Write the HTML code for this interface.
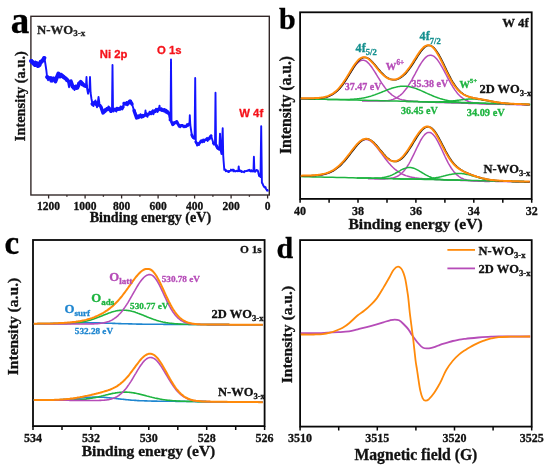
<!DOCTYPE html>
<html><head><meta charset="utf-8"><style>
html,body{margin:0;padding:0;background:#fff;width:550px;height:470px;overflow:hidden}
svg{display:block}

</style></head><body>
<svg width="550" height="470" viewBox="0 0 550 470" font-family="Liberation Serif" font-weight="bold" style="will-change:transform">
<rect width="550" height="470" fill="#fff"/>
<rect x="30.9" y="16.3" width="238.4" height="178.7" fill="none" stroke="#332828" stroke-width="1.4"/>
<path d="M267.6,195 v3.6 M249.4,195 v1.8 M231.1,195 v3.6 M212.9,195 v1.8 M194.6,195 v3.6 M176.4,195 v1.8 M158.1,195 v3.6 M139.9,195 v1.8 M121.6,195 v3.6 M103.4,195 v1.8 M85.1,195 v3.6 M66.9,195 v1.8 M48.6,195 v3.6" stroke="#332828" stroke-width="1.3" fill="none"/>
<text x="267.6" y="210" font-size="11.5" text-anchor="middle" fill="#111" stroke="#111" stroke-width="0.3">0</text>
<text x="231.1" y="210" font-size="11.5" text-anchor="middle" fill="#111" stroke="#111" stroke-width="0.3">200</text>
<text x="194.6" y="210" font-size="11.5" text-anchor="middle" fill="#111" stroke="#111" stroke-width="0.3">400</text>
<text x="158.1" y="210" font-size="11.5" text-anchor="middle" fill="#111" stroke="#111" stroke-width="0.3">600</text>
<text x="121.6" y="210" font-size="11.5" text-anchor="middle" fill="#111" stroke="#111" stroke-width="0.3">800</text>
<text x="85.1" y="210" font-size="11.5" text-anchor="middle" fill="#111" stroke="#111" stroke-width="0.3">1000</text>
<text x="48.6" y="210" font-size="11.5" text-anchor="middle" fill="#111" stroke="#111" stroke-width="0.3">1200</text>
<text x="150.4" y="222.2" font-size="14.1" text-anchor="middle" fill="#111" stroke="#111" stroke-width="0.3">Binding energy (eV)</text>
<text transform="translate(24.5,96.2) rotate(-90)" font-size="14.4" text-anchor="middle" fill="#111" stroke="#111" stroke-width="0.3">Intensity (a.u.)</text>
<text x="10.8" y="33" font-size="37" fill="#000" stroke="#000" stroke-width="0.3">a</text>
<text x="37" y="33.5" font-size="12.8" fill="#222" stroke="#222" stroke-width="0.3">N-WO<tspan font-size="9" dy="2.5">3-x</tspan></text>
<text x="99.8" y="57.8" font-family="Liberation Sans" font-size="11.3" fill="#f5121a" stroke="#f5121a" stroke-width="0.3">Ni 2p</text>
<text x="157" y="53.9" font-family="Liberation Sans" font-size="11.3" fill="#f5121a" stroke="#f5121a" stroke-width="0.3">O 1s</text>
<text x="239.3" y="116.5" font-family="Liberation Sans" font-size="11.3" fill="#f5121a" stroke="#f5121a" stroke-width="0.3">W 4f</text>
<path d="M31,61 L33,63 L35,65 L36,63 L37,64 L38,66 L39.5,65 L40.5,62 L41.8,61.2 L43,60 L44.4,58 M47.1,77 L48.5,78 L50.1,78.4 L51.5,80 L53.6,79 L55.4,81.3 L57,77 L58.4,73.6 L60,76.5 L61.9,75.4 L63.5,77 L65.5,78.4 L67.8,80.7 M70.8,81.3 L72.6,86.6 L75,87.5 L77.3,87.8 L79,84 L80.8,81.9 L82.5,84 L84.4,85.5 L86,86 M92.5,104 L95,102.5 L97.5,105" stroke="#1414ff" stroke-width="4" fill="none" stroke-linejoin="round" stroke-linecap="round"/>
<path d="M101,107 L103,113 L106,110 L109,108 L111,111 L112,110 M113,110 L115,109.5 L120,109 L123,107 M124,103.5 L127,104 L130,101 L132,104 M134,110.5 L136.6,118 L138.6,117.3 L141,116 L143,116.5 L145,115 M146,115 L149,114 L152.3,112.5 L155,111.5 L157,110 L159,109 M160,109.5 L163,110 L165.9,110.5 L168.7,113.2" stroke="#1414ff" stroke-width="3.4" fill="none" stroke-linejoin="round" stroke-linecap="round"/>
<path d="M170,120 L170.6,120 M171.5,122 L172.7,124.8 L175,123 L176.8,121.4 L178,124 L179.6,125.7 L183,126 L186.4,126.2 L188.4,124.1 L189.5,124 M191.8,135 L193.2,137.7 L194.6,138 M195.8,142 L197.7,144.6 L200,142.5 L201.8,141.1 L205,140 L208.6,139.1 L211.1,135.7 M213.4,143.2 L215,144 M216,145 L217.5,148 L219.3,149.3" stroke="#1414ff" stroke-width="2.8" fill="none" stroke-linejoin="round" stroke-linecap="round"/>
<path d="M31,61 L31.5,60.5 L32,60 L32.5,63.3 L33,63 L33.5,61.1 L34,64.2 L34.5,63.7 L35,65 L35.5,61.5 L36,63 L36.5,63.5 L37,64 L37.5,62.4 L38,66 L38.5,65.3 L39,62.9 L39.5,65 L40,61.2 L40.5,62 L41.1,61.2 L41.8,61.2 L42.4,62.4 L43,60 L43.5,57.2 L43.9,57.1 L44.4,58 L45.4,64 L46.3,70 L47.1,77 L47.6,78 L48,80.2 L48.5,78 L49,78.6 L49.6,77.7 L50.1,78.4 L50.6,81.6 L51,76.9 L51.5,80 L52,81.8 L52.5,78.3 L53.1,77.3 L53.6,79 L54.2,77.6 L54.8,79.5 L55.4,81.3 L55.9,81.6 L56.5,76.6 L57,77 L57.5,76.3 L57.9,75.5 L58.4,73.6 L58.9,73.9 L59.5,75.8 L60,76.5 L60.5,73.8 L61,73.5 L61.4,74 L61.9,75.4 L62.4,76.9 L63,76.1 L63.5,77 L64,76.3 L64.5,78.2 L65,77.8 L65.5,78.4 L66,77.7 L66.4,81 L66.9,80.9 L67.3,78.8 L67.8,80.7 L69,87.2 L70.8,81.3 L71.4,83.5 L72,85 L72.6,86.6 L73.1,88.9 L73.6,88.2 L74,86 L74.5,90 L75,87.5 L75.5,85.4 L75.9,87.2 L76.4,89.1 L76.8,85.8 L77.3,87.8 L77.9,86.5 L78.4,82.7 L79,84 L79.6,84.2 L80.2,84.1 L80.8,81.9 L81.4,83 L81.9,85.4 L82.5,84 L83,83.3 L83.5,85.8 L83.9,85.7 L84.4,85.5 L84.9,86.1 L85.5,85.6 L86,86 L86.5,77 L87,88 L88,93.7 L89.5,88 L90,77 L90.6,93 L91.5,99 L92.5,104 L93,105.6 L93.5,105.9 L94,103 L94.5,103.7 L95,102.5 L95.5,100.5 L96,104.6 L96.5,104.8 L97,107.3 L97.5,105 L98.5,97 L99.5,104 L100,106.5 L100.5,105 L101,107 L101.5,108 L102,110.8 L102.5,109.3 L103,113 L103.5,112.3 L104,110.5 L104.5,109.7 L105,109 L105.5,111.7 L106,110 L106.5,108 L107,108.2 L107.5,108.5 L108,110.4 L108.5,106.4 L109,108 L109.5,108.5 L110,109.7 L110.5,112 L111,111 L111.5,112 L112,110 L112.5,65 L113,110 L113.5,111.5 L114,108.7 L114.5,109.2 L115,109.5 L115.5,108.8 L115.9,111.2 L116.4,111.5 L116.8,107.7 L117.3,107.8 L117.7,108 L118.2,108 L118.6,109.1 L119.1,109.5 L119.5,108 L120,109 L120.5,106.4 L121,108 L121.5,107.4 L122,108 L122.5,109.4 L123,107 L124,103.5 L124.5,104.5 L125,103.7 L125.5,104.3 L126,104.6 L126.5,101.9 L127,104 L127.5,105.3 L128,104.3 L128.5,104.2 L129,103.4 L129.5,101 L130,101 L130.5,101.3 L131,100.7 L131.5,103.9 L132,104 L134,110.5 L134.5,110 L135,111.5 L135.6,113.7 L136.1,114.9 L136.6,118 L137.1,117.1 L137.6,115.6 L138.1,115.2 L138.6,117.3 L139.1,115.4 L139.6,114.9 L140,115.9 L140.5,114.1 L141,116 L141.5,117.8 L142,116.8 L142.5,114.8 L143,116.5 L143.5,115 L144,115 L144.5,114.8 L145,115 L145.5,110.5 L146,115 L146.5,113.1 L147,116.3 L147.5,116.8 L148,114.2 L148.5,114.1 L149,114 L149.5,111.9 L149.9,111.7 L150.4,112.6 L150.9,112.1 L151.4,114.4 L151.8,111.2 L152.3,112.5 L152.8,110.1 L153.4,114.2 L153.9,112 L154.5,110.1 L155,111.5 L155.5,111.3 L156,108.6 L156.5,110.5 L157,110 L157.5,112 L158,111.2 L158.5,110.2 L159,109 L159.5,105.7 L160,109.5 L160.5,108.5 L161,109.1 L161.5,108.2 L162,111.1 L162.5,110.1 L163,110 L163.5,111.4 L164,109.4 L164.4,109 L164.9,111.8 L165.4,112.6 L165.9,110.5 L166.4,112.6 L166.8,112.8 L167.3,113.3 L167.8,113.4 L168.2,111.5 L168.7,113.2 L170,120 L170.6,120 L171,59.5 L171.5,122 L172.1,123.5 L172.7,124.8 L173.2,123.9 L173.6,122.5 L174.1,122.1 L174.5,122.6 L175,123 L175.4,121.8 L175.9,122.9 L176.4,123.4 L176.8,121.4 L177.4,122.5 L178,124 L178.5,126.1 L179.1,126.8 L179.6,125.7 L180.1,127.3 L180.6,125.3 L181.1,124.9 L181.5,124.9 L182,124.9 L182.5,125 L183,126 L183.5,126.5 L184,127.4 L184.5,127.2 L184.9,126 L185.4,126.7 L185.9,127.2 L186.4,126.2 L186.9,124.3 L187.4,125.7 L187.9,126 L188.4,124.1 L188.9,125 L189.5,124 L189.8,115.2 L190.3,125 L191.8,135 L192.3,136.8 L192.7,136.7 L193.2,137.7 L193.7,136.7 L194.1,138.9 L194.6,138 L195.2,78 L195.8,142 L196.3,142.1 L196.8,144.3 L197.2,145.6 L197.7,144.6 L198.2,143.8 L198.6,143.4 L199.1,144.9 L199.5,143.7 L200,142.5 L200.4,141 L200.9,140.5 L201.4,140.3 L201.8,141.1 L202.3,142.3 L202.7,141.8 L203.2,139.4 L203.6,141.6 L204.1,141.9 L204.5,140.7 L205,140 L205.5,139.4 L206,139.9 L206.5,138.4 L207.1,137.8 L207.6,141 L208.1,139.7 L208.6,139.1 L209.1,138.5 L209.6,139.2 L210.1,136.8 L210.6,137.6 L211.1,135.7 L213.4,143.2 L213.9,144.6 L214.5,142.8 L215,144 L215.5,92.7 L216,145 L216.5,145.2 L217,146.3 L217.5,148 L217.9,147.4 L218.4,148.9 L218.9,148.2 L219.3,149.3 L220,133.6 L220.6,150 L221.5,154 L222.7,128.2 L223.2,155 L223.6,161 L224.3,169.8 L224.8,169.7 L225.3,169.4 L225.8,171.3 L226.2,170.3 L226.7,170.7 L227.2,171.2 L227.7,171.2 L228.2,172 L228.7,170.9 L229.1,171.9 L229.6,170.9 L230.1,170.9 L230.6,170.8 L231,169.6 L231.5,170.4 L232,170.5 L232.5,169.9 L233,169.6 L233.5,171.4 L234,170.1 L234.5,170.9 L235,171.5 L235.5,171.2 L236,171.2 L236.5,170.7 L236.9,171 L237.4,170.9 L237.8,171.3 L238.3,170.5 L238.7,166.4 L239.2,171 L239.7,170.2 L240.2,171.3 L240.7,170.7 L241.2,170.9 L241.7,172 L242.2,171.5 L242.7,171.6 L243.2,171.7 L243.6,172 L244.1,172.3 L244.6,171.1 L245.1,171.4 L245.5,171.1 L246,171 L246.5,170.9 L247,171.1 L247.5,170.4 L248.1,170.4 L248.6,170.1 L249.1,170.9 L249.6,169.8 L250.1,170.5 L250.6,171.1 L251,171.5 L251.5,170.2 L252,171 L252.5,171 L253,171.6 L253.5,170.5 L253.9,156.8 L254.4,171 L255.1,171.8 L255.7,171.2 L256.2,170.2 L256.8,170 L257.3,170.5 L257.8,170.5 L259.1,176 L259.6,175.4 L260,176.1 L260.5,177 L261.2,126.1 L261.9,183 L262.4,183.1 L263,185 L263.5,185.9 L264,186.6 L264.5,187.4 L265,187 L265.5,187.1 L266,189.1 L266.5,189.5 L267,190.5 L267.5,190 L268,191.5" stroke="#1414ff" stroke-width="1.9" fill="none" stroke-linejoin="round"/>
<rect x="300.1" y="12.3" width="231.60000000000002" height="186.6" fill="none" stroke="#080808" stroke-width="1.8"/>
<path d="M531.7,198.9 v3.8 M502.8,198.9 v3.8 M473.8,198.9 v3.8 M444.9,198.9 v3.8 M415.9,198.9 v3.8 M387,198.9 v3.8 M358,198.9 v3.8 M329.1,198.9 v3.8 M300.1,198.9 v3.8" stroke="#080808" stroke-width="1.5" fill="none"/>
<text x="531.7" y="214.6" font-size="12" text-anchor="middle" fill="#111" stroke="#111" stroke-width="0.3">32</text>
<text x="473.8" y="214.6" font-size="12" text-anchor="middle" fill="#111" stroke="#111" stroke-width="0.3">34</text>
<text x="415.9" y="214.6" font-size="12" text-anchor="middle" fill="#111" stroke="#111" stroke-width="0.3">36</text>
<text x="358" y="214.6" font-size="12" text-anchor="middle" fill="#111" stroke="#111" stroke-width="0.3">38</text>
<text x="300.1" y="214.6" font-size="12" text-anchor="middle" fill="#111" stroke="#111" stroke-width="0.3">40</text>
<text x="415.6" y="228.8" font-size="15.6" text-anchor="middle" fill="#111" stroke="#111" stroke-width="0.3">Binding energy (eV)</text>
<text transform="translate(290.8,105) rotate(-90)" font-size="15.7" text-anchor="middle" fill="#111" stroke="#111" stroke-width="0.3">Intensity (a.u.)</text>
<text x="279" y="28.5" font-size="30" fill="#000" stroke="#000" stroke-width="0.3">b</text>
<text x="528.8" y="26.6" font-size="12.8" text-anchor="end" fill="#111" stroke="#111" stroke-width="0.3">W 4f</text>
<path d="M300.8,98.8 L301.8,98.9 L302.8,98.9 L303.8,98.9 L304.8,98.9 L305.8,98.9 L306.8,98.9 L307.8,98.9 L308.8,98.9 L309.8,98.9 L310.8,98.9 L311.8,98.8 L312.8,98.8 L313.8,98.8 L314.8,98.7 L315.8,98.7 L316.8,98.6 L317.8,98.6 L318.8,98.5 L319.8,98.4 L320.8,98.3 L321.8,98.1 L322.8,98 L323.8,97.8 L324.8,97.6 L325.8,97.3 L326.8,97 L327.8,96.7 L328.8,96.3 L329.8,95.9 L330.8,95.4 L331.8,94.8 L332.8,94.2 L333.8,93.6 L334.8,92.8 L335.8,92 L336.8,91.1 L337.8,90.1 L338.8,89.1 L339.8,87.9 L340.8,86.7 L341.8,85.5 L342.8,84.1 L343.8,82.7 L344.8,81.2 L345.8,79.7 L346.8,78.2 L347.8,76.6 L348.8,75 L349.8,73.4 L350.8,71.8 L351.8,70.3 L352.8,68.8 L353.8,67.4 L354.8,66 L355.8,64.7 L356.8,63.6 L357.8,62.6 L358.8,61.8 L359.8,61.1 L360.8,60.6 L361.8,60.3 L362.8,60.2 L363.8,60.3 L364.8,60.6 L365.8,61 L366.8,61.7 L367.8,62.6 L368.8,63.5 L369.8,64.7 L370.8,66 L371.8,67.3 L372.8,68.8 L373.8,70.3 L374.8,71.9 L375.8,73.5 L376.8,75.2 L377.8,76.8 L378.8,78.4 L379.8,80 L380.8,81.6 L381.8,83.2 L382.8,84.6 L383.8,86 L384.8,87.4 L385.8,88.7 L386.8,89.9 L387.8,91 L388.8,92.1 L389.8,93 L390.8,93.9 L391.8,94.8 L392.8,95.5 L393.8,96.2 L394.8,96.8 L395.8,97.4 L396.8,97.9 L397.8,98.3 L398.8,98.7 L399.8,99.1 L400.8,99.4 L401.8,99.7 L402.8,99.9 L403.8,100.1 L404.8,100.3 L405.8,100.5 L406.8,100.7 L407.8,100.8 L408.8,100.9 L409.8,101 L410.8,101.1 L411.8,101.2 L412.8,101.3 L413.8,101.4 L414.8,101.4 L415.8,101.5 L416.8,101.6 L417.8,101.6 L418.8,101.7 L419.8,101.7 L420.8,101.8 L421.8,101.8 L422.8,101.9 L423.8,101.9 L424.8,101.9 L425.8,102 L426.8,102 L427.8,102.1 L428.8,102.1 L429.8,102.1 L430.8,102.2 L431.8,102.2 L432.8,102.3 L433.8,102.3 L434.8,102.3 L435.8,102.4 L436.8,102.4 L437.8,102.4 L438.8,102.5 L439.8,102.5 L440.8,102.5 L441.8,102.6 L442.8,102.6 L443.8,102.6 L444.8,102.7 L445.8,102.7 L446.8,102.7 L447.8,102.7 L448.8,102.8 L449.8,102.8 L450.8,102.8 L451.8,102.9 L452.8,102.9 L453.8,102.9 L454.8,103 L455.8,103 L456.8,103 L457.8,103 L458.8,103.1 L459.8,103.1 L460.8,103.1 L461.8,103.2 L462.8,103.2 L463.8,103.2 L464.8,103.3 L465.8,103.3 L466.8,103.3 L467.8,103.3 L468.8,103.4 L469.8,103.4 L470.8,103.4 L471.8,103.5 L472.8,103.5 L473.8,103.5 L474.8,103.5 L475.8,103.6 L476.8,103.6 L477.8,103.6 L478.8,103.6 L479.8,103.7 L480.8,103.7 L481.8,103.7 L482.8,103.8 L483.8,103.8 L484.8,103.8 L485.8,103.8 L486.8,103.9 L487.8,103.9 L488.8,103.9 L489.8,103.9 L490.8,104 L491.8,104 L492.8,104 L493.8,104.1 L494.8,104.1 L495.8,104.1 L496.8,104.1 L497.8,104.2 L498.8,104.2 L499.8,104.2 L500.8,104.2 L501.8,104.3 L502.8,104.3 L503.8,104.3 L504.8,104.3 L505.8,104.4 L506.8,104.4 L507.8,104.4 L508.8,104.5 L509.8,104.5 L510.8,104.5 L511.8,104.5 L512.8,104.6 L513.8,104.6 L514.8,104.6 L515.8,104.6 L516.8,104.7 L517.8,104.7 L518.8,104.7 L519.8,104.7 L520.8,104.8 L521.8,104.8 L522.8,104.8 L523.8,104.8 L524.8,104.9 L525.8,104.9 L526.8,104.9 L527.8,104.9 L528.8,105 L529.8,105" stroke="#b64cb8" stroke-width="1.5" fill="none"/>
<path d="M362,100.9 L363,100.9 L364,100.9 L365,100.9 L366,101 L367,101 L368,101 L369,101 L370,101 L371,101.1 L372,101.1 L373,101.1 L374,101.1 L375,101.1 L376,101.1 L377,101.1 L378,101.1 L379,101.1 L380,101.1 L381,101.1 L382,101.1 L383,101 L384,101 L385,100.9 L386,100.8 L387,100.7 L388,100.6 L389,100.4 L390,100.2 L391,100 L392,99.7 L393,99.4 L394,99 L395,98.6 L396,98.1 L397,97.5 L398,96.9 L399,96.2 L400,95.5 L401,94.6 L402,93.7 L403,92.7 L404,91.5 L405,90.3 L406,89 L407,87.7 L408,86.2 L409,84.6 L410,83 L411,81.3 L412,79.6 L413,77.7 L414,75.9 L415,74.1 L416,72.2 L417,70.3 L418,68.5 L419,66.7 L420,65 L421,63.4 L422,61.9 L423,60.5 L424,59.2 L425,58.1 L426,57.1 L427,56.3 L428,55.7 L429,55.4 L430,55.2 L431,55.2 L432,55.4 L433,55.8 L434,56.4 L435,57.2 L436,58.2 L437,59.3 L438,60.6 L439,62.1 L440,63.6 L441,65.3 L442,67 L443,68.9 L444,70.7 L445,72.6 L446,74.5 L447,76.4 L448,78.3 L449,80.2 L450,82 L451,83.8 L452,85.4 L453,87.1 L454,88.6 L455,90.1 L456,91.4 L457,92.7 L458,93.9 L459,95 L460,96 L461,96.9 L462,97.7 L463,98.5 L464,99.1 L465,99.7 L466,100.3 L467,100.8 L468,101.2 L469,101.6 L470,101.9 L471,102.2 L472,102.4 L473,102.7 L474,102.9 L475,103 L476,103.2 L477,103.3 L478,103.4 L479,103.5 L480,103.6 L481,103.6 L482,103.7 L483,103.8 L484,103.8 L485,103.9 L486,103.9 L487,103.9 L488,104 L489,104 L490,104 L491,104.1 L492,104.1 L493,104.1 L494,104.2 L495,104.2 L496,104.2 L497,104.2 L498,104.3 L499,104.3" stroke="#b64cb8" stroke-width="1.5" fill="none"/>
<path d="M308.6,98.9 L309.6,98.9 L310.6,99 L311.6,99 L312.6,99 L313.6,99 L314.6,99.1 L315.6,99.1 L316.6,99.1 L317.6,99.1 L318.6,99.2 L319.6,99.2 L320.6,99.2 L321.6,99.2 L322.6,99.3 L323.6,99.3 L324.6,99.3 L325.6,99.3 L326.6,99.3 L327.6,99.4 L328.6,99.4 L329.6,99.4 L330.6,99.4 L331.6,99.4 L332.6,99.5 L333.6,99.5 L334.6,99.5 L335.6,99.5 L336.6,99.5 L337.6,99.5 L338.6,99.5 L339.6,99.5 L340.6,99.5 L341.6,99.5 L342.6,99.5 L343.6,99.5 L344.6,99.5 L345.6,99.5 L346.6,99.5 L347.6,99.5 L348.6,99.4 L349.6,99.4 L350.6,99.3 L351.6,99.3 L352.6,99.2 L353.6,99.2 L354.6,99.1 L355.6,99 L356.6,98.9 L357.6,98.8 L358.6,98.7 L359.6,98.5 L360.6,98.4 L361.6,98.2 L362.6,98.1 L363.6,97.9 L364.6,97.7 L365.6,97.5 L366.6,97.2 L367.6,97 L368.6,96.7 L369.6,96.4 L370.6,96.2 L371.6,95.9 L372.6,95.5 L373.6,95.2 L374.6,94.9 L375.6,94.5 L376.6,94.1 L377.6,93.8 L378.6,93.4 L379.6,93 L380.6,92.6 L381.6,92.2 L382.6,91.8 L383.6,91.4 L384.6,91 L385.6,90.6 L386.6,90.2 L387.6,89.8 L388.6,89.4 L389.6,89 L390.6,88.7 L391.6,88.3 L392.6,88 L393.6,87.7 L394.6,87.4 L395.6,87.2 L396.6,86.9 L397.6,86.7 L398.6,86.6 L399.6,86.4 L400.6,86.3 L401.6,86.2 L402.6,86.2 L403.6,86.2 L404.6,86.2 L405.6,86.2 L406.6,86.3 L407.6,86.4 L408.6,86.6 L409.6,86.8 L410.6,87 L411.6,87.2 L412.6,87.5 L413.6,87.8 L414.6,88.1 L415.6,88.4 L416.6,88.8 L417.6,89.2 L418.6,89.6 L419.6,90 L420.6,90.4 L421.6,90.9 L422.6,91.3 L423.6,91.8 L424.6,92.2 L425.6,92.7 L426.6,93.1 L427.6,93.6 L428.6,94 L429.6,94.5 L430.6,94.9 L431.6,95.3 L432.6,95.8 L433.6,96.2 L434.6,96.6 L435.6,97 L436.6,97.3 L437.6,97.7 L438.6,98 L439.6,98.4 L440.6,98.7 L441.6,99 L442.6,99.3 L443.6,99.6 L444.6,99.8 L445.6,100.1 L446.6,100.3 L447.6,100.5 L448.6,100.7 L449.6,100.9 L450.6,101.1 L451.6,101.2 L452.6,101.4 L453.6,101.5 L454.6,101.7 L455.6,101.8 L456.6,101.9 L457.6,102 L458.6,102.1 L459.6,102.2 L460.6,102.3 L461.6,102.4 L462.6,102.4 L463.6,102.5 L464.6,102.6 L465.6,102.6 L466.6,102.7 L467.6,102.7 L468.6,102.8 L469.6,102.8 L470.6,102.9 L471.6,102.9 L472.6,102.9 L473.6,103 L474.6,103 L475.6,103.1 L476.6,103.1 L477.6,103.1 L478.6,103.1 L479.6,103.2 L480.6,103.2 L481.6,103.2 L482.6,103.3 L483.6,103.3 L484.6,103.3 L485.6,103.3 L486.6,103.4 L487.6,103.4 L488.6,103.4 L489.6,103.5 L490.6,103.5 L491.6,103.5 L492.6,103.5 L493.6,103.6 L494.6,103.6 L495.6,103.6 L496.6,103.6 L497.6,103.7 L498.6,103.7 L499.6,103.7" stroke="#1eb440" stroke-width="1.5" fill="none"/>
<path d="M403.4,101.3 L404.4,101.3 L405.4,101.3 L406.4,101.4 L407.4,101.4 L408.4,101.4 L409.4,101.4 L410.4,101.5 L411.4,101.5 L412.4,101.5 L413.4,101.5 L414.4,101.6 L415.4,101.6 L416.4,101.6 L417.4,101.6 L418.4,101.7 L419.4,101.7 L420.4,101.7 L421.4,101.7 L422.4,101.8 L423.4,101.8 L424.4,101.8 L425.4,101.8 L426.4,101.8 L427.4,101.8 L428.4,101.9 L429.4,101.9 L430.4,101.9 L431.4,101.9 L432.4,101.9 L433.4,101.9 L434.4,101.9 L435.4,101.9 L436.4,101.9 L437.4,101.9 L438.4,101.9 L439.4,101.8 L440.4,101.8 L441.4,101.8 L442.4,101.7 L443.4,101.7 L444.4,101.6 L445.4,101.6 L446.4,101.5 L447.4,101.4 L448.4,101.3 L449.4,101.3 L450.4,101.2 L451.4,101 L452.4,100.9 L453.4,100.8 L454.4,100.7 L455.4,100.6 L456.4,100.4 L457.4,100.3 L458.4,100.2 L459.4,100.1 L460.4,99.9 L461.4,99.8 L462.4,99.7 L463.4,99.6 L464.4,99.5 L465.4,99.4 L466.4,99.3 L467.4,99.2 L468.4,99.1 L469.4,99.1 L470.4,99.1 L471.4,99 L472.4,99 L473.4,99.1 L474.4,99.1 L475.4,99.1 L476.4,99.2 L477.4,99.3 L478.4,99.4 L479.4,99.5 L480.4,99.6 L481.4,99.7 L482.4,99.9 L483.4,100 L484.4,100.2 L485.4,100.4 L486.4,100.5 L487.4,100.7 L488.4,100.9 L489.4,101.1 L490.4,101.2 L491.4,101.4 L492.4,101.6 L493.4,101.8 L494.4,101.9 L495.4,102.1 L496.4,102.3 L497.4,102.4 L498.4,102.6 L499.4,102.7 L500.4,102.8 L501.4,102.9 L502.4,103.1 L503.4,103.2 L504.4,103.3 L505.4,103.4 L506.4,103.4 L507.4,103.5 L508.4,103.6 L509.4,103.7 L510.4,103.7 L511.4,103.8 L512.4,103.9 L513.4,103.9 L514.4,104 L515.4,104 L516.4,104 L517.4,104.1 L518.4,104.1 L519.4,104.2 L520.4,104.2 L521.4,104.2 L522.4,104.3 L523.4,104.3 L524.4,104.3 L525.4,104.3 L526.4,104.4 L527.4,104.4 L528.4,104.4 L529.4,104.5 L530.4,104.5" stroke="#1eb440" stroke-width="1.5" fill="none"/>
<path d="M300.8,98.7 L304.8,98.8 L308.8,98.9 L312.8,99 L316.8,99.1 L320.8,99.2 L324.8,99.3 L328.8,99.4 L332.8,99.5 L336.8,99.6 L340.8,99.7 L344.8,99.8 L348.8,99.9 L352.8,100 L356.8,100.1 L360.8,100.2 L364.8,100.3 L368.8,100.4 L372.8,100.5 L376.8,100.6 L380.8,100.7 L384.8,100.8 L388.8,100.9 L392.8,101 L396.8,101.1 L400.8,101.2 L404.8,101.3 L408.8,101.4 L412.8,101.5 L416.8,101.6 L420.8,101.7 L424.8,101.8 L428.8,101.9 L432.8,102 L436.8,102.1 L440.8,102.2 L444.8,102.3 L448.8,102.4 L452.8,102.5 L456.8,102.6 L460.8,102.7 L464.8,102.8 L468.8,102.9 L472.8,103 L476.8,103.1 L480.8,103.2 L484.8,103.3 L488.8,103.4 L492.8,103.5 L496.8,103.6 L500.8,103.7 L504.8,103.8 L508.8,103.9 L512.8,104 L516.8,104.1 L520.8,104.2 L524.8,104.3 L528.8,104.4" stroke="#1eb440" stroke-width="1.5" fill="none"/>
<path d="M300.8,98.4 L301.8,98.4 L302.8,98.5 L303.8,98.5 L304.8,98.5 L305.8,98.5 L306.8,98.5 L307.8,98.5 L308.8,98.5 L309.8,98.5 L310.8,98.5 L311.8,98.4 L312.8,98.4 L313.8,98.4 L314.8,98.4 L315.8,98.3 L316.8,98.3 L317.8,98.2 L318.8,98.2 L319.8,98.1 L320.8,98 L321.8,97.9 L322.8,97.7 L323.8,97.6 L324.8,97.4 L325.8,97.1 L326.8,96.9 L327.8,96.6 L328.8,96.2 L329.8,95.8 L330.8,95.4 L331.8,94.9 L332.8,94.3 L333.8,93.7 L334.8,93 L335.8,92.2 L336.8,91.4 L337.8,90.5 L338.8,89.5 L339.8,88.4 L340.8,87.3 L341.8,86 L342.8,84.7 L343.8,83.3 L344.8,81.9 L345.8,80.4 L346.8,78.8 L347.8,77.2 L348.8,75.6 L349.8,73.9 L350.8,72.3 L351.8,70.6 L352.8,69 L353.8,67.4 L354.8,65.9 L355.8,64.4 L356.8,63.1 L357.8,61.8 L358.8,60.7 L359.8,59.7 L360.8,58.9 L361.8,58.3 L362.8,57.8 L363.8,57.5 L364.8,57.4 L365.8,57.5 L366.8,57.7 L367.8,58.1 L368.8,58.7 L369.8,59.4 L370.8,60.3 L371.8,61.2 L372.8,62.3 L373.8,63.4 L374.8,64.6 L375.8,65.8 L376.8,67 L377.8,68.2 L378.8,69.4 L379.8,70.6 L380.8,71.8 L381.8,72.9 L382.8,73.9 L383.8,74.9 L384.8,75.8 L385.8,76.6 L386.8,77.3 L387.8,78 L388.8,78.5 L389.8,79 L390.8,79.3 L391.8,79.6 L392.8,79.8 L393.8,79.8 L394.8,79.8 L395.8,79.7 L396.8,79.5 L397.8,79.1 L398.8,78.7 L399.8,78.2 L400.8,77.6 L401.8,77 L402.8,76.2 L403.8,75.3 L404.8,74.4 L405.8,73.4 L406.8,72.2 L407.8,71 L408.8,69.8 L409.8,68.4 L410.8,67 L411.8,65.6 L412.8,64.1 L413.8,62.5 L414.8,60.9 L415.8,59.3 L416.8,57.8 L417.8,56.2 L418.8,54.6 L419.8,53.2 L420.8,51.7 L421.8,50.4 L422.8,49.2 L423.8,48.2 L424.8,47.2 L425.8,46.5 L426.8,45.9 L427.8,45.5 L428.8,45.4 L429.8,45.4 L430.8,45.6 L431.8,46.1 L432.8,46.8 L433.8,47.6 L434.8,48.7 L435.8,49.9 L436.8,51.3 L437.8,52.9 L438.8,54.5 L439.8,56.3 L440.8,58.2 L441.8,60.2 L442.8,62.2 L443.8,64.2 L444.8,66.3 L445.8,68.4 L446.8,70.5 L447.8,72.5 L448.8,74.5 L449.8,76.4 L450.8,78.3 L451.8,80.1 L452.8,81.8 L453.8,83.4 L454.8,85 L455.8,86.4 L456.8,87.7 L457.8,88.9 L458.8,90.1 L459.8,91.1 L460.8,92 L461.8,92.8 L462.8,93.6 L463.8,94.3 L464.8,94.9 L465.8,95.4 L466.8,95.9 L467.8,96.3 L468.8,96.6 L469.8,97 L470.8,97.3 L471.8,97.5 L472.8,97.8 L473.8,98 L474.8,98.2 L475.8,98.4 L476.8,98.6 L477.8,98.8 L478.8,98.9 L479.8,99.1 L480.8,99.3 L481.8,99.5 L482.8,99.7 L483.8,99.9 L484.8,100 L485.8,100.2 L486.8,100.4 L487.8,100.6 L488.8,100.8 L489.8,101 L490.8,101.2 L491.8,101.4 L492.8,101.6 L493.8,101.8 L494.8,101.9 L495.8,102.1 L496.8,102.3 L497.8,102.4 L498.8,102.6 L499.8,102.7 L500.8,102.8 L501.8,103 L502.8,103.1 L503.8,103.2 L504.8,103.3 L505.8,103.4 L506.8,103.5 L507.8,103.6 L508.8,103.7 L509.8,103.7 L510.8,103.8 L511.8,103.9 L512.8,103.9 L513.8,104 L514.8,104 L515.8,104.1 L516.8,104.1 L517.8,104.2 L518.8,104.2 L519.8,104.3 L520.8,104.3 L521.8,104.3 L522.8,104.4 L523.8,104.4 L524.8,104.4 L525.8,104.5 L526.8,104.5 L527.8,104.5 L528.8,104.5 L529.8,104.6" stroke="#111" stroke-width="1.5" fill="none"/>
<path d="M300.8,98.2 L301.8,98.3 L302.8,98.3 L303.8,98.3 L304.8,98.3 L305.8,98.3 L306.8,98.3 L307.8,98.3 L308.8,98.3 L309.8,98.3 L310.8,98.2 L311.8,98.2 L312.8,98.2 L313.8,98.2 L314.8,98.1 L315.8,98.1 L316.8,98 L317.8,98 L318.8,97.9 L319.8,97.8 L320.8,97.7 L321.8,97.5 L322.8,97.4 L323.8,97.2 L324.8,97 L325.8,96.7 L326.8,96.4 L327.8,96.1 L328.8,95.7 L329.8,95.2 L330.8,94.7 L331.8,94.2 L332.8,93.6 L333.8,92.9 L334.8,92.1 L335.8,91.3 L336.8,90.4 L337.8,89.4 L338.8,88.3 L339.8,87.2 L340.8,86 L341.8,84.6 L342.8,83.3 L343.8,81.8 L344.8,80.3 L345.8,78.8 L346.8,77.2 L347.8,75.6 L348.8,73.9 L349.8,72.2 L350.8,70.6 L351.8,69 L352.8,67.4 L353.8,65.8 L354.8,64.4 L355.8,63 L356.8,61.8 L357.8,60.6 L358.8,59.6 L359.8,58.8 L360.8,58.1 L361.8,57.6 L362.8,57.3 L363.8,57.2 L364.8,57.3 L365.8,57.5 L366.8,57.9 L367.8,58.5 L368.8,59.2 L369.8,60 L370.8,60.9 L371.8,62 L372.8,63.1 L373.8,64.2 L374.8,65.4 L375.8,66.7 L376.8,67.9 L377.8,69.1 L378.8,70.3 L379.8,71.5 L380.8,72.6 L381.8,73.6 L382.8,74.6 L383.8,75.5 L384.8,76.3 L385.8,77.1 L386.8,77.7 L387.8,78.3 L388.8,78.7 L389.8,79.1 L390.8,79.4 L391.8,79.5 L392.8,79.6 L393.8,79.6 L394.8,79.5 L395.8,79.3 L396.8,79 L397.8,78.6 L398.8,78.1 L399.8,77.5 L400.8,76.8 L401.8,76.1 L402.8,75.2 L403.8,74.3 L404.8,73.3 L405.8,72.2 L406.8,71 L407.8,69.7 L408.8,68.4 L409.8,67 L410.8,65.5 L411.8,64 L412.8,62.5 L413.8,60.9 L414.8,59.3 L415.8,57.7 L416.8,56.1 L417.8,54.6 L418.8,53.1 L419.8,51.7 L420.8,50.4 L421.8,49.1 L422.8,48.1 L423.8,47.1 L424.8,46.3 L425.8,45.8 L426.8,45.4 L427.8,45.2 L428.8,45.2 L429.8,45.4 L430.8,45.8 L431.8,46.5 L432.8,47.3 L433.8,48.4 L434.8,49.6 L435.8,51 L436.8,52.5 L437.8,54.2 L438.8,55.9 L439.8,57.8 L440.8,59.8 L441.8,61.8 L442.8,63.8 L443.8,65.9 L444.8,68 L445.8,70.1 L446.8,72.1 L447.8,74.1 L448.8,76 L449.8,77.9 L450.8,79.7 L451.8,81.5 L452.8,83.1 L453.8,84.6 L454.8,86.1 L455.8,87.4 L456.8,88.6 L457.8,89.8 L458.8,90.8 L459.8,91.7 L460.8,92.6 L461.8,93.3 L462.8,94 L463.8,94.6 L464.8,95.1 L465.8,95.6 L466.8,96 L467.8,96.4 L468.8,96.7 L469.8,97 L470.8,97.3 L471.8,97.5 L472.8,97.8 L473.8,98 L474.8,98.2 L475.8,98.4 L476.8,98.5 L477.8,98.7 L478.8,98.9 L479.8,99.1 L480.8,99.3 L481.8,99.5 L482.8,99.6 L483.8,99.8 L484.8,100 L485.8,100.2 L486.8,100.4 L487.8,100.6 L488.8,100.8 L489.8,101 L490.8,101.2 L491.8,101.4 L492.8,101.5 L493.8,101.7 L494.8,101.9 L495.8,102 L496.8,102.2 L497.8,102.4 L498.8,102.5 L499.8,102.6 L500.8,102.8 L501.8,102.9 L502.8,103 L503.8,103.1 L504.8,103.2 L505.8,103.3 L506.8,103.4 L507.8,103.5 L508.8,103.5 L509.8,103.6 L510.8,103.7 L511.8,103.7 L512.8,103.8 L513.8,103.8 L514.8,103.9 L515.8,103.9 L516.8,104 L517.8,104 L518.8,104.1 L519.8,104.1 L520.8,104.1 L521.8,104.2 L522.8,104.2 L523.8,104.2 L524.8,104.3 L525.8,104.3 L526.8,104.3 L527.8,104.3 L528.8,104.4 L529.8,104.4" stroke="#ff8a0a" stroke-width="2" fill="none"/>
<path d="M300.8,176.3 L301.8,176.3 L302.8,176.2 L303.8,176.2 L304.8,176.2 L305.8,176.2 L306.8,176.2 L307.8,176.2 L308.8,176.1 L309.8,176.1 L310.8,176 L311.8,176 L312.8,175.9 L313.8,175.9 L314.8,175.8 L315.8,175.7 L316.8,175.6 L317.8,175.5 L318.8,175.4 L319.8,175.3 L320.8,175.1 L321.8,174.9 L322.8,174.7 L323.8,174.5 L324.8,174.2 L325.8,174 L326.8,173.6 L327.8,173.3 L328.8,172.9 L329.8,172.5 L330.8,172 L331.8,171.5 L332.8,171 L333.8,170.4 L334.8,169.7 L335.8,169 L336.8,168.2 L337.8,167.4 L338.8,166.5 L339.8,165.6 L340.8,164.6 L341.8,163.6 L342.8,162.5 L343.8,161.4 L344.8,160.3 L345.8,159 L346.8,157.8 L347.8,156.5 L348.8,155.2 L349.8,153.9 L350.8,152.6 L351.8,151.3 L352.8,150 L353.8,148.7 L354.8,147.5 L355.8,146.3 L356.8,145.1 L357.8,144 L358.8,143 L359.8,142.1 L360.8,141.3 L361.8,140.7 L362.8,140.1 L363.8,139.8 L364.8,139.5 L365.8,139.4 L366.8,139.5 L367.8,139.7 L368.8,140 L369.8,140.5 L370.8,141.2 L371.8,142 L372.8,142.8 L373.8,143.8 L374.8,144.9 L375.8,146.1 L376.8,147.3 L377.8,148.6 L378.8,149.9 L379.8,151.2 L380.8,152.6 L381.8,153.9 L382.8,155.3 L383.8,156.6 L384.8,158 L385.8,159.3 L386.8,160.5 L387.8,161.8 L388.8,163 L389.8,164.1 L390.8,165.2 L391.8,166.3 L392.8,167.3 L393.8,168.2 L394.8,169.1 L395.8,169.9 L396.8,170.7 L397.8,171.4 L398.8,172.1 L399.8,172.7 L400.8,173.3 L401.8,173.9 L402.8,174.3 L403.8,174.8 L404.8,175.2 L405.8,175.6 L406.8,175.9 L407.8,176.2 L408.8,176.5 L409.8,176.8 L410.8,177 L411.8,177.2 L412.8,177.4 L413.8,177.6 L414.8,177.8 L415.8,177.9 L416.8,178 L417.8,178.2 L418.8,178.3 L419.8,178.4 L420.8,178.5 L421.8,178.6 L422.8,178.7 L423.8,178.7 L424.8,178.8 L425.8,178.9 L426.8,178.9 L427.8,179 L428.8,179.1 L429.8,179.1 L430.8,179.2 L431.8,179.2 L432.8,179.3 L433.8,179.3 L434.8,179.4 L435.8,179.4 L436.8,179.5 L437.8,179.5 L438.8,179.6 L439.8,179.6 L440.8,179.6 L441.8,179.7 L442.8,179.7 L443.8,179.8 L444.8,179.8 L445.8,179.8 L446.8,179.9 L447.8,179.9 L448.8,179.9 L449.8,180 L450.8,180 L451.8,180.1 L452.8,180.1 L453.8,180.1 L454.8,180.2 L455.8,180.2 L456.8,180.2 L457.8,180.3 L458.8,180.3 L459.8,180.3 L460.8,180.4 L461.8,180.4 L462.8,180.4 L463.8,180.4 L464.8,180.5 L465.8,180.5 L466.8,180.5 L467.8,180.6 L468.8,180.6 L469.8,180.6 L470.8,180.7 L471.8,180.7 L472.8,180.7 L473.8,180.7 L474.8,180.8 L475.8,180.8 L476.8,180.8 L477.8,180.9 L478.8,180.9 L479.8,180.9 L480.8,180.9 L481.8,181 L482.8,181 L483.8,181 L484.8,181.1 L485.8,181.1 L486.8,181.1 L487.8,181.1 L488.8,181.2 L489.8,181.2 L490.8,181.2 L491.8,181.2 L492.8,181.3 L493.8,181.3 L494.8,181.3 L495.8,181.4 L496.8,181.4 L497.8,181.4 L498.8,181.4 L499.8,181.5 L500.8,181.5 L501.8,181.5 L502.8,181.5 L503.8,181.6 L504.8,181.6 L505.8,181.6 L506.8,181.6 L507.8,181.7 L508.8,181.7 L509.8,181.7 L510.8,181.7 L511.8,181.8 L512.8,181.8 L513.8,181.8 L514.8,181.8 L515.8,181.9 L516.8,181.9 L517.8,181.9 L518.8,181.9 L519.8,182 L520.8,182 L521.8,182 L522.8,182 L523.8,182.1 L524.8,182.1 L525.8,182.1 L526.8,182.1 L527.8,182.2 L528.8,182.2 L529.8,182.2" stroke="#b64cb8" stroke-width="1.5" fill="none"/>
<path d="M367.9,178.7 L368.9,178.7 L369.9,178.8 L370.9,178.8 L371.9,178.8 L372.9,178.8 L373.9,178.8 L374.9,178.9 L375.9,178.9 L376.9,178.9 L377.9,178.9 L378.9,178.9 L379.9,178.9 L380.9,178.9 L381.9,178.9 L382.9,178.9 L383.9,178.9 L384.9,178.9 L385.9,178.8 L386.9,178.8 L387.9,178.7 L388.9,178.6 L389.9,178.5 L390.9,178.3 L391.9,178.1 L392.9,177.9 L393.9,177.6 L394.9,177.3 L395.9,176.9 L396.9,176.5 L397.9,176 L398.9,175.4 L399.9,174.7 L400.9,173.9 L401.9,173 L402.9,172 L403.9,170.9 L404.9,169.7 L405.9,168.4 L406.9,167 L407.9,165.4 L408.9,163.8 L409.9,162 L410.9,160.1 L411.9,158.2 L412.9,156.2 L413.9,154.1 L414.9,152 L415.9,149.9 L416.9,147.8 L417.9,145.8 L418.9,143.8 L419.9,141.8 L420.9,140 L421.9,138.4 L422.9,136.9 L423.9,135.6 L424.9,134.4 L425.9,133.6 L426.9,132.9 L427.9,132.5 L428.9,132.4 L429.9,132.5 L430.9,132.8 L431.9,133.5 L432.9,134.3 L433.9,135.4 L434.9,136.7 L435.9,138.2 L436.9,139.9 L437.9,141.7 L438.9,143.6 L439.9,145.6 L440.9,147.7 L441.9,149.8 L442.9,152 L443.9,154.1 L444.9,156.3 L445.9,158.3 L446.9,160.3 L447.9,162.3 L448.9,164.1 L449.9,165.8 L450.9,167.5 L451.9,169 L452.9,170.4 L453.9,171.7 L454.9,172.9 L455.9,173.9 L456.9,174.9 L457.9,175.7 L458.9,176.5 L459.9,177.2 L460.9,177.8 L461.9,178.3 L462.9,178.7 L463.9,179.1 L464.9,179.4 L465.9,179.7 L466.9,180 L467.9,180.2 L468.9,180.4 L469.9,180.5 L470.9,180.6 L471.9,180.7 L472.9,180.8 L473.9,180.9 L474.9,181 L475.9,181 L476.9,181.1 L477.9,181.1 L478.9,181.2 L479.9,181.2 L480.9,181.2 L481.9,181.3 L482.9,181.3 L483.9,181.3 L484.9,181.4 L485.9,181.4 L486.9,181.4 L487.9,181.4 L488.9,181.4 L489.9,181.5" stroke="#b64cb8" stroke-width="1.5" fill="none"/>
<path d="M356.8,177.9 L357.8,177.9 L358.8,177.9 L359.8,177.9 L360.8,178 L361.8,178 L362.8,178 L363.8,178 L364.8,178.1 L365.8,178.1 L366.8,178.1 L367.8,178.1 L368.8,178.1 L369.8,178.1 L370.8,178.1 L371.8,178.2 L372.8,178.2 L373.8,178.2 L374.8,178.1 L375.8,178.1 L376.8,178.1 L377.8,178.1 L378.8,178 L379.8,177.9 L380.8,177.9 L381.8,177.8 L382.8,177.6 L383.8,177.5 L384.8,177.3 L385.8,177.1 L386.8,176.8 L387.8,176.5 L388.8,176.2 L389.8,175.9 L390.8,175.5 L391.8,175.1 L392.8,174.6 L393.8,174.1 L394.8,173.6 L395.8,173 L396.8,172.5 L397.8,171.9 L398.8,171.3 L399.8,170.8 L400.8,170.2 L401.8,169.7 L402.8,169.2 L403.8,168.8 L404.8,168.4 L405.8,168.1 L406.8,167.8 L407.8,167.6 L408.8,167.5 L409.8,167.5 L410.8,167.6 L411.8,167.7 L412.8,168 L413.8,168.3 L414.8,168.6 L415.8,169.1 L416.8,169.6 L417.8,170.1 L418.8,170.7 L419.8,171.3 L420.8,171.9 L421.8,172.5 L422.8,173.1 L423.8,173.7 L424.8,174.3 L425.8,174.9 L426.8,175.4 L427.8,175.9 L428.8,176.4 L429.8,176.8 L430.8,177.2 L431.8,177.6 L432.8,177.9 L433.8,178.2 L434.8,178.4 L435.8,178.7 L436.8,178.9 L437.8,179 L438.8,179.2 L439.8,179.3 L440.8,179.4 L441.8,179.5 L442.8,179.6 L443.8,179.7 L444.8,179.7 L445.8,179.8 L446.8,179.8 L447.8,179.9 L448.8,179.9 L449.8,179.9 L450.8,180 L451.8,180 L452.8,180 L453.8,180.1 L454.8,180.1 L455.8,180.1 L456.8,180.1 L457.8,180.1 L458.8,180.2 L459.8,180.2 L460.8,180.2 L461.8,180.2" stroke="#1eb440" stroke-width="1.5" fill="none"/>
<path d="M392.8,178.7 L393.8,178.7 L394.8,178.7 L395.8,178.8 L396.8,178.8 L397.8,178.8 L398.8,178.8 L399.8,178.8 L400.8,178.9 L401.8,178.9 L402.8,178.9 L403.8,178.9 L404.8,179 L405.8,179 L406.8,179 L407.8,179 L408.8,179 L409.8,179 L410.8,179.1 L411.8,179.1 L412.8,179.1 L413.8,179.1 L414.8,179.1 L415.8,179.1 L416.8,179.1 L417.8,179.1 L418.8,179.1 L419.8,179.1 L420.8,179.1 L421.8,179.1 L422.8,179.1 L423.8,179 L424.8,179 L425.8,178.9 L426.8,178.9 L427.8,178.8 L428.8,178.7 L429.8,178.6 L430.8,178.5 L431.8,178.4 L432.8,178.3 L433.8,178.1 L434.8,178 L435.8,177.8 L436.8,177.6 L437.8,177.4 L438.8,177.2 L439.8,177 L440.8,176.8 L441.8,176.5 L442.8,176.3 L443.8,176 L444.8,175.8 L445.8,175.5 L446.8,175.3 L447.8,175.1 L448.8,174.8 L449.8,174.6 L450.8,174.4 L451.8,174.2 L452.8,174 L453.8,173.9 L454.8,173.7 L455.8,173.6 L456.8,173.5 L457.8,173.5 L458.8,173.5 L459.8,173.5 L460.8,173.5 L461.8,173.6 L462.8,173.7 L463.8,173.8 L464.8,174 L465.8,174.2 L466.8,174.4 L467.8,174.6 L468.8,174.8 L469.8,175.1 L470.8,175.4 L471.8,175.7 L472.8,175.9 L473.8,176.2 L474.8,176.5 L475.8,176.8 L476.8,177.1 L477.8,177.4 L478.8,177.7 L479.8,178 L480.8,178.2 L481.8,178.5 L482.8,178.7 L483.8,178.9 L484.8,179.2 L485.8,179.4 L486.8,179.5 L487.8,179.7 L488.8,179.9 L489.8,180 L490.8,180.1 L491.8,180.3 L492.8,180.4 L493.8,180.5 L494.8,180.6 L495.8,180.7 L496.8,180.7 L497.8,180.8 L498.8,180.9 L499.8,180.9 L500.8,181 L501.8,181 L502.8,181.1 L503.8,181.1 L504.8,181.1 L505.8,181.2 L506.8,181.2 L507.8,181.2 L508.8,181.3 L509.8,181.3 L510.8,181.3 L511.8,181.4 L512.8,181.4 L513.8,181.4 L514.8,181.4 L515.8,181.5 L516.8,181.5 L517.8,181.5 L518.8,181.5 L519.8,181.5 L520.8,181.6 L521.8,181.6 L522.8,181.6 L523.8,181.6 L524.8,181.7 L525.8,181.7" stroke="#1eb440" stroke-width="1.5" fill="none"/>
<path d="M300.8,176.6 L304.8,176.7 L308.8,176.8 L312.8,176.9 L316.8,177 L320.8,177.1 L324.8,177.2 L328.8,177.2 L332.8,177.3 L336.8,177.4 L340.8,177.5 L344.8,177.6 L348.8,177.7 L352.8,177.8 L356.8,177.9 L360.8,178 L364.8,178.1 L368.8,178.1 L372.8,178.2 L376.8,178.3 L380.8,178.4 L384.8,178.5 L388.8,178.6 L392.8,178.7 L396.8,178.8 L400.8,178.9 L404.8,179 L408.8,179 L412.8,179.1 L416.8,179.2 L420.8,179.3 L424.8,179.4 L428.8,179.5 L432.8,179.6 L436.8,179.7 L440.8,179.8 L444.8,179.9 L448.8,179.9 L452.8,180 L456.8,180.1 L460.8,180.2 L464.8,180.3 L468.8,180.4 L472.8,180.5 L476.8,180.6 L480.8,180.7 L484.8,180.8 L488.8,180.9 L492.8,180.9 L496.8,181 L500.8,181.1 L504.8,181.2 L508.8,181.3 L512.8,181.4 L516.8,181.5 L520.8,181.6 L524.8,181.7 L528.8,181.8" stroke="#1eb440" stroke-width="1.5" fill="none"/>
<path d="M300.8,175.9 L301.8,175.9 L302.8,175.9 L303.8,175.8 L304.8,175.8 L305.8,175.8 L306.8,175.8 L307.8,175.8 L308.8,175.7 L309.8,175.7 L310.8,175.7 L311.8,175.6 L312.8,175.6 L313.8,175.5 L314.8,175.5 L315.8,175.4 L316.8,175.3 L317.8,175.2 L318.8,175.1 L319.8,175 L320.8,174.8 L321.8,174.7 L322.8,174.5 L323.8,174.3 L324.8,174.1 L325.8,173.8 L326.8,173.5 L327.8,173.2 L328.8,172.9 L329.8,172.5 L330.8,172 L331.8,171.6 L332.8,171.1 L333.8,170.5 L334.8,169.9 L335.8,169.2 L336.8,168.5 L337.8,167.7 L338.8,166.9 L339.8,166.1 L340.8,165.1 L341.8,164.1 L342.8,163.1 L343.8,162 L344.8,160.9 L345.8,159.7 L346.8,158.5 L347.8,157.3 L348.8,156 L349.8,154.7 L350.8,153.4 L351.8,152.1 L352.8,150.8 L353.8,149.5 L354.8,148.2 L355.8,146.9 L356.8,145.7 L357.8,144.6 L358.8,143.5 L359.8,142.5 L360.8,141.7 L361.8,140.9 L362.8,140.2 L363.8,139.7 L364.8,139.3 L365.8,139.1 L366.8,139 L367.8,139.1 L368.8,139.3 L369.8,139.7 L370.8,140.2 L371.8,140.8 L372.8,141.6 L373.8,142.4 L374.8,143.4 L375.8,144.5 L376.8,145.6 L377.8,146.7 L378.8,147.9 L379.8,149.2 L380.8,150.4 L381.8,151.6 L382.8,152.8 L383.8,154 L384.8,155.1 L385.8,156.2 L386.8,157.2 L387.8,158.1 L388.8,158.9 L389.8,159.7 L390.8,160.3 L391.8,160.8 L392.8,161.1 L393.8,161.4 L394.8,161.5 L395.8,161.5 L396.8,161.4 L397.8,161.1 L398.8,160.6 L399.8,160.1 L400.8,159.4 L401.8,158.6 L402.8,157.7 L403.8,156.7 L404.8,155.5 L405.8,154.3 L406.8,153 L407.8,151.6 L408.8,150.1 L409.8,148.6 L410.8,147.1 L411.8,145.5 L412.8,143.8 L413.8,142.2 L414.8,140.6 L415.8,139 L416.8,137.4 L417.8,135.8 L418.8,134.4 L419.8,133 L420.8,131.7 L421.8,130.5 L422.8,129.5 L423.8,128.6 L424.8,127.9 L425.8,127.3 L426.8,127 L427.8,126.8 L428.8,126.8 L429.8,127.1 L430.8,127.5 L431.8,128.2 L432.8,129 L433.8,130.1 L434.8,131.3 L435.8,132.7 L436.8,134.2 L437.8,135.9 L438.8,137.6 L439.8,139.5 L440.8,141.4 L441.8,143.3 L442.8,145.3 L443.8,147.2 L444.8,149.2 L445.8,151.1 L446.8,152.9 L447.8,154.7 L448.8,156.4 L449.8,158 L450.8,159.5 L451.8,160.9 L452.8,162.2 L453.8,163.5 L454.8,164.6 L455.8,165.6 L456.8,166.6 L457.8,167.4 L458.8,168.2 L459.8,168.9 L460.8,169.6 L461.8,170.2 L462.8,170.8 L463.8,171.3 L464.8,171.8 L465.8,172.3 L466.8,172.8 L467.8,173.2 L468.8,173.6 L469.8,174 L470.8,174.4 L471.8,174.8 L472.8,175.2 L473.8,175.5 L474.8,175.9 L475.8,176.2 L476.8,176.6 L477.8,176.9 L478.8,177.2 L479.8,177.5 L480.8,177.8 L481.8,178.1 L482.8,178.4 L483.8,178.6 L484.8,178.8 L485.8,179.1 L486.8,179.3 L487.8,179.5 L488.8,179.6 L489.8,179.8 L490.8,179.9 L491.8,180.1 L492.8,180.2 L493.8,180.3 L494.8,180.4 L495.8,180.5 L496.8,180.6 L497.8,180.7 L498.8,180.8 L499.8,180.8 L500.8,180.9 L501.8,180.9 L502.8,181 L503.8,181 L504.8,181.1 L505.8,181.1 L506.8,181.2 L507.8,181.2 L508.8,181.2 L509.8,181.3 L510.8,181.3 L511.8,181.3 L512.8,181.4 L513.8,181.4 L514.8,181.4 L515.8,181.4 L516.8,181.5 L517.8,181.5 L518.8,181.5 L519.8,181.5 L520.8,181.6 L521.8,181.6 L522.8,181.6 L523.8,181.6 L524.8,181.7 L525.8,181.7 L526.8,181.7 L527.8,181.7 L528.8,181.8 L529.8,181.8" stroke="#111" stroke-width="1.5" fill="none"/>
<path d="M300.8,175.7 L301.8,175.7 L302.8,175.6 L303.8,175.6 L304.8,175.6 L305.8,175.6 L306.8,175.6 L307.8,175.6 L308.8,175.5 L309.8,175.5 L310.8,175.4 L311.8,175.4 L312.8,175.3 L313.8,175.3 L314.8,175.2 L315.8,175.1 L316.8,175 L317.8,174.9 L318.8,174.8 L319.8,174.7 L320.8,174.5 L321.8,174.3 L322.8,174.1 L323.8,173.9 L324.8,173.6 L325.8,173.4 L326.8,173 L327.8,172.7 L328.8,172.3 L329.8,171.9 L330.8,171.4 L331.8,170.9 L332.8,170.4 L333.8,169.8 L334.8,169.1 L335.8,168.4 L336.8,167.6 L337.8,166.8 L338.8,165.9 L339.8,165 L340.8,164 L341.8,163 L342.8,161.9 L343.8,160.8 L344.8,159.7 L345.8,158.4 L346.8,157.2 L347.8,155.9 L348.8,154.6 L349.8,153.3 L350.8,152 L351.8,150.7 L352.8,149.4 L353.8,148.1 L354.8,146.9 L355.8,145.7 L356.8,144.5 L357.8,143.4 L358.8,142.4 L359.8,141.5 L360.8,140.7 L361.8,140.1 L362.8,139.5 L363.8,139.1 L364.8,138.9 L365.8,138.8 L366.8,138.8 L367.8,139.1 L368.8,139.4 L369.8,139.9 L370.8,140.5 L371.8,141.3 L372.8,142.1 L373.8,143.1 L374.8,144.1 L375.8,145.3 L376.8,146.4 L377.8,147.6 L378.8,148.8 L379.8,150.1 L380.8,151.3 L381.8,152.5 L382.8,153.7 L383.8,154.8 L384.8,155.9 L385.8,156.9 L386.8,157.8 L387.8,158.7 L388.8,159.4 L389.8,160 L390.8,160.5 L391.8,160.9 L392.8,161.2 L393.8,161.3 L394.8,161.3 L395.8,161.2 L396.8,160.9 L397.8,160.5 L398.8,160 L399.8,159.3 L400.8,158.5 L401.8,157.6 L402.8,156.6 L403.8,155.5 L404.8,154.2 L405.8,152.9 L406.8,151.5 L407.8,150.1 L408.8,148.6 L409.8,147 L410.8,145.4 L411.8,143.8 L412.8,142.2 L413.8,140.5 L414.8,138.9 L415.8,137.3 L416.8,135.8 L417.8,134.3 L418.8,132.9 L419.8,131.6 L420.8,130.5 L421.8,129.4 L422.8,128.5 L423.8,127.7 L424.8,127.2 L425.8,126.8 L426.8,126.6 L427.8,126.6 L428.8,126.8 L429.8,127.3 L430.8,127.9 L431.8,128.7 L432.8,129.8 L433.8,131 L434.8,132.3 L435.8,133.8 L436.8,135.5 L437.8,137.2 L438.8,139.1 L439.8,141 L440.8,142.9 L441.8,144.9 L442.8,146.8 L443.8,148.8 L444.8,150.7 L445.8,152.5 L446.8,154.3 L447.8,156 L448.8,157.6 L449.8,159.2 L450.8,160.6 L451.8,161.9 L452.8,163.1 L453.8,164.3 L454.8,165.3 L455.8,166.3 L456.8,167.1 L457.8,167.9 L458.8,168.7 L459.8,169.3 L460.8,170 L461.8,170.5 L462.8,171.1 L463.8,171.6 L464.8,172.1 L465.8,172.5 L466.8,173 L467.8,173.4 L468.8,173.8 L469.8,174.2 L470.8,174.6 L471.8,174.9 L472.8,175.3 L473.8,175.7 L474.8,176 L475.8,176.3 L476.8,176.7 L477.8,177 L478.8,177.3 L479.8,177.6 L480.8,177.9 L481.8,178.1 L482.8,178.4 L483.8,178.6 L484.8,178.8 L485.8,179 L486.8,179.2 L487.8,179.4 L488.8,179.6 L489.8,179.7 L490.8,179.9 L491.8,180 L492.8,180.1 L493.8,180.2 L494.8,180.3 L495.8,180.4 L496.8,180.5 L497.8,180.6 L498.8,180.6 L499.8,180.7 L500.8,180.7 L501.8,180.8 L502.8,180.8 L503.8,180.9 L504.8,180.9 L505.8,181 L506.8,181 L507.8,181 L508.8,181.1 L509.8,181.1 L510.8,181.1 L511.8,181.2 L512.8,181.2 L513.8,181.2 L514.8,181.2 L515.8,181.3 L516.8,181.3 L517.8,181.3 L518.8,181.3 L519.8,181.4 L520.8,181.4 L521.8,181.4 L522.8,181.4 L523.8,181.5 L524.8,181.5 L525.8,181.5 L526.8,181.5 L527.8,181.6 L528.8,181.6 L529.8,181.6" stroke="#ff8a0a" stroke-width="2" fill="none"/>
<text x="355.6" y="51.7" font-size="12.2" fill="#15908f" stroke="#15908f" stroke-width="0.3">4f<tspan font-size="8.6" dy="3.6">5/2</tspan></text>
<text x="419.6" y="40.4" font-size="12.2" fill="#15908f" stroke="#15908f" stroke-width="0.3">4f<tspan font-size="8.6" dy="3.2">7/2</tspan></text>
<text x="385.8" y="70" font-size="10.6" fill="#b64cb8" stroke="#b64cb8" stroke-width="0.3">W<tspan font-size="7.2" dy="-5">6+</tspan></text>
<text x="459.4" y="87.8" font-size="10.4" fill="#1eb440" stroke="#1eb440" stroke-width="0.3">W<tspan font-size="7" dy="-4.9">5+</tspan></text>
<text x="344.8" y="89.9" font-size="10" fill="#b64cb8" stroke="#b64cb8" stroke-width="0.3">37.47 eV</text>
<text x="411.5" y="86.7" font-size="10" fill="#b64cb8" stroke="#b64cb8" stroke-width="0.3">35.38 eV</text>
<text x="437.7" y="113.6" font-size="10" text-anchor="end" fill="#1eb440" stroke="#1eb440" stroke-width="0.3">36.45 eV</text>
<text x="466.7" y="116.2" font-size="10.4" fill="#1eb440" stroke="#1eb440" stroke-width="0.3">34.09 eV</text>
<text x="479.4" y="93" font-size="12.5" fill="#111" stroke="#111" stroke-width="0.3">2D WO<tspan font-size="8.6" dy="3">3-x</tspan></text>
<text x="483.5" y="172.5" font-size="12.5" fill="#111" stroke="#111" stroke-width="0.3">N-WO<tspan font-size="8.6" dy="3">3-x</tspan></text>
<rect x="33" y="240" width="231.60000000000002" height="186.10000000000002" fill="none" stroke="#080808" stroke-width="1.8"/>
<path d="M264.6,426.1 v3.8 M235.7,426.1 v3.8 M206.7,426.1 v3.8 M177.8,426.1 v3.8 M148.8,426.1 v3.8 M119.8,426.1 v3.8 M90.9,426.1 v3.8 M62,426.1 v3.8 M33,426.1 v3.8" stroke="#080808" stroke-width="1.5" fill="none"/>
<text x="264.6" y="441.5" font-size="12" text-anchor="middle" fill="#111" stroke="#111" stroke-width="0.3">526</text>
<text x="206.7" y="441.5" font-size="12" text-anchor="middle" fill="#111" stroke="#111" stroke-width="0.3">528</text>
<text x="148.8" y="441.5" font-size="12" text-anchor="middle" fill="#111" stroke="#111" stroke-width="0.3">530</text>
<text x="90.9" y="441.5" font-size="12" text-anchor="middle" fill="#111" stroke="#111" stroke-width="0.3">532</text>
<text x="33" y="441.5" font-size="12" text-anchor="middle" fill="#111" stroke="#111" stroke-width="0.3">534</text>
<text x="148.5" y="456.1" font-size="15.5" text-anchor="middle" fill="#111" stroke="#111" stroke-width="0.3">Binding energy (eV)</text>
<text transform="translate(18,326.5) rotate(-90)" font-size="15.6" text-anchor="middle" fill="#111" stroke="#111" stroke-width="0.3">Intensity (a.u.)</text>
<text x="4.5" y="253.5" font-size="33" fill="#000" stroke="#000" stroke-width="0.3">c</text>
<text x="261.8" y="253.1" font-size="11.4" text-anchor="end" fill="#111" stroke="#111" stroke-width="0.3">O 1s</text>
<path d="M33.8,323.7 L34.8,323.7 L35.8,323.7 L36.8,323.7 L37.8,323.6 L38.8,323.6 L39.8,323.6 L40.8,323.6 L41.8,323.6 L42.8,323.6 L43.8,323.6 L44.8,323.6 L45.8,323.5 L46.8,323.5 L47.8,323.5 L48.8,323.5 L49.8,323.5 L50.8,323.4 L51.8,323.4 L52.8,323.4 L53.8,323.4 L54.8,323.4 L55.8,323.3 L56.8,323.3 L57.8,323.3 L58.8,323.3 L59.8,323.2 L60.8,323.2 L61.8,323.2 L62.8,323.1 L63.8,323.1 L64.8,323.1 L65.8,323.1 L66.8,323 L67.8,323 L68.8,323 L69.8,323 L70.8,322.9 L71.8,322.9 L72.8,322.9 L73.8,322.9 L74.8,322.9 L75.8,322.8 L76.8,322.8 L77.8,322.8 L78.8,322.8 L79.8,322.8 L80.8,322.8 L81.8,322.8 L82.8,322.7 L83.8,322.7 L84.8,322.7 L85.8,322.7 L86.8,322.7 L87.8,322.7 L88.8,322.7 L89.8,322.7 L90.8,322.8 L91.8,322.8 L92.8,322.8 L93.8,322.8 L94.8,322.8 L95.8,322.8 L96.8,322.9 L97.8,322.9 L98.8,322.9 L99.8,322.9 L100.8,323 L101.8,323 L102.8,323 L103.8,323 L104.8,323.1 L105.8,323.1 L106.8,323.1 L107.8,323.2 L108.8,323.2 L109.8,323.2 L110.8,323.3 L111.8,323.3 L112.8,323.4 L113.8,323.4 L114.8,323.4 L115.8,323.5 L116.8,323.5 L117.8,323.5 L118.8,323.6 L119.8,323.6 L120.8,323.6 L121.8,323.7 L122.8,323.7 L123.8,323.7 L124.8,323.8 L125.8,323.8 L126.8,323.8 L127.8,323.8 L128.8,323.9 L129.8,323.9 L130.8,323.9 L131.8,323.9 L132.8,324 L133.8,324 L134.8,324 L135.8,324 L136.8,324.1 L137.8,324.1 L138.8,324.1 L139.8,324.1 L140.8,324.1 L141.8,324.1 L142.8,324.2 L143.8,324.2 L144.8,324.2 L145.8,324.2 L146.8,324.2 L147.8,324.2 L148.8,324.2 L149.8,324.2 L150.8,324.3 L151.8,324.3 L152.8,324.3 L153.8,324.3 L154.8,324.3 L155.8,324.3 L156.8,324.3 L157.8,324.3 L158.8,324.3 L159.8,324.3 L160.8,324.3 L161.8,324.3 L162.8,324.3 L163.8,324.4 L164.8,324.4 L165.8,324.4 L166.8,324.4 L167.8,324.4 L168.8,324.4 L169.8,324.4 L170.8,324.4 L171.8,324.4 L172.8,324.4 L173.8,324.4 L174.8,324.4 L175.8,324.4 L176.8,324.4 L177.8,324.4 L178.8,324.4 L179.8,324.4 L180.8,324.4 L181.8,324.4 L182.8,324.4 L183.8,324.5 L184.8,324.5 L185.8,324.5 L186.8,324.5 L187.8,324.5 L188.8,324.5 L189.8,324.5 L190.8,324.5 L191.8,324.5 L192.8,324.5 L193.8,324.5 L194.8,324.5 L195.8,324.5 L196.8,324.5 L197.8,324.5 L198.8,324.5 L199.8,324.5 L200.8,324.5 L201.8,324.5 L202.8,324.5 L203.8,324.5 L204.8,324.5 L205.8,324.5 L206.8,324.6 L207.8,324.6 L208.8,324.6 L209.8,324.6 L210.8,324.6 L211.8,324.6 L212.8,324.6 L213.8,324.6 L214.8,324.6 L215.8,324.6 L216.8,324.6 L217.8,324.6 L218.8,324.6 L219.8,324.6 L220.8,324.6 L221.8,324.6 L222.8,324.6 L223.8,324.6 L224.8,324.6 L225.8,324.6 L226.8,324.6 L227.8,324.6 L228.8,324.6 L229.8,324.7 L230.8,324.7 L231.8,324.7 L232.8,324.7 L233.8,324.7 L234.8,324.7 L235.8,324.7 L236.8,324.7 L237.8,324.7 L238.8,324.7 L239.8,324.7 L240.8,324.7 L241.8,324.7 L242.8,324.7 L243.8,324.7 L244.8,324.7 L245.8,324.7 L246.8,324.7 L247.8,324.7 L248.8,324.7 L249.8,324.7 L250.8,324.7 L251.8,324.7 L252.8,324.8 L253.8,324.8 L254.8,324.8 L255.8,324.8 L256.8,324.8 L257.8,324.8 L258.8,324.8 L259.8,324.8 L260.8,324.8 L261.8,324.8 L262.8,324.8" stroke="#1f86d0" stroke-width="1.6" fill="none"/>
<path d="M33.8,323.8 L34.8,323.8 L35.8,323.8 L36.8,323.8 L37.8,323.8 L38.8,323.8 L39.8,323.8 L40.8,323.8 L41.8,323.8 L42.8,323.8 L43.8,323.8 L44.8,323.8 L45.8,323.8 L46.8,323.8 L47.8,323.8 L48.8,323.8 L49.8,323.8 L50.8,323.8 L51.8,323.8 L52.8,323.8 L53.8,323.8 L54.8,323.8 L55.8,323.8 L56.8,323.8 L57.8,323.8 L58.8,323.8 L59.8,323.8 L60.8,323.8 L61.8,323.7 L62.8,323.7 L63.8,323.7 L64.8,323.7 L65.8,323.6 L66.8,323.6 L67.8,323.5 L68.8,323.5 L69.8,323.4 L70.8,323.4 L71.8,323.3 L72.8,323.2 L73.8,323.1 L74.8,323 L75.8,322.9 L76.8,322.8 L77.8,322.7 L78.8,322.6 L79.8,322.4 L80.8,322.2 L81.8,322.1 L82.8,321.9 L83.8,321.7 L84.8,321.5 L85.8,321.2 L86.8,321 L87.8,320.7 L88.8,320.5 L89.8,320.2 L90.8,319.9 L91.8,319.6 L92.8,319.2 L93.8,318.9 L94.8,318.6 L95.8,318.2 L96.8,317.8 L97.8,317.4 L98.8,317.1 L99.8,316.7 L100.8,316.3 L101.8,315.9 L102.8,315.5 L103.8,315.1 L104.8,314.7 L105.8,314.3 L106.8,313.9 L107.8,313.5 L108.8,313.1 L109.8,312.8 L110.8,312.4 L111.8,312.1 L112.8,311.8 L113.8,311.5 L114.8,311.3 L115.8,311 L116.8,310.8 L117.8,310.6 L118.8,310.5 L119.8,310.4 L120.8,310.3 L121.8,310.2 L122.8,310.2 L123.8,310.2 L124.8,310.2 L125.8,310.3 L126.8,310.4 L127.8,310.5 L128.8,310.6 L129.8,310.8 L130.8,311 L131.8,311.3 L132.8,311.5 L133.8,311.8 L134.8,312.1 L135.8,312.5 L136.8,312.8 L137.8,313.2 L138.8,313.5 L139.8,313.9 L140.8,314.3 L141.8,314.7 L142.8,315.1 L143.8,315.5 L144.8,315.9 L145.8,316.3 L146.8,316.8 L147.8,317.2 L148.8,317.6 L149.8,317.9 L150.8,318.3 L151.8,318.7 L152.8,319.1 L153.8,319.4 L154.8,319.7 L155.8,320.1 L156.8,320.4 L157.8,320.7 L158.8,321 L159.8,321.2 L160.8,321.5 L161.8,321.7 L162.8,322 L163.8,322.2 L164.8,322.4 L165.8,322.6 L166.8,322.7 L167.8,322.9 L168.8,323 L169.8,323.2 L170.8,323.3 L171.8,323.4 L172.8,323.5 L173.8,323.6 L174.8,323.7 L175.8,323.8 L176.8,323.9 L177.8,323.9 L178.8,324 L179.8,324.1 L180.8,324.1 L181.8,324.2 L182.8,324.2 L183.8,324.2 L184.8,324.3 L185.8,324.3 L186.8,324.3 L187.8,324.3 L188.8,324.4 L189.8,324.4 L190.8,324.4 L191.8,324.4 L192.8,324.4 L193.8,324.4 L194.8,324.5 L195.8,324.5 L196.8,324.5 L197.8,324.5 L198.8,324.5 L199.8,324.5 L200.8,324.5 L201.8,324.5 L202.8,324.5 L203.8,324.5 L204.8,324.5 L205.8,324.5 L206.8,324.5 L207.8,324.6 L208.8,324.6 L209.8,324.6 L210.8,324.6 L211.8,324.6 L212.8,324.6 L213.8,324.6 L214.8,324.6 L215.8,324.6 L216.8,324.6 L217.8,324.6 L218.8,324.6 L219.8,324.6 L220.8,324.6 L221.8,324.6 L222.8,324.6 L223.8,324.6 L224.8,324.6 L225.8,324.6 L226.8,324.6 L227.8,324.6 L228.8,324.6 L229.8,324.7 L230.8,324.7 L231.8,324.7 L232.8,324.7 L233.8,324.7 L234.8,324.7 L235.8,324.7 L236.8,324.7 L237.8,324.7 L238.8,324.7 L239.8,324.7 L240.8,324.7 L241.8,324.7 L242.8,324.7 L243.8,324.7 L244.8,324.7 L245.8,324.7 L246.8,324.7 L247.8,324.7 L248.8,324.7 L249.8,324.7 L250.8,324.7 L251.8,324.7 L252.8,324.8 L253.8,324.8 L254.8,324.8 L255.8,324.8 L256.8,324.8 L257.8,324.8 L258.8,324.8 L259.8,324.8 L260.8,324.8 L261.8,324.8 L262.8,324.8" stroke="#1eb440" stroke-width="1.6" fill="none"/>
<path d="M33.8,323.8 L34.8,323.8 L35.8,323.8 L36.8,323.8 L37.8,323.8 L38.8,323.8 L39.8,323.8 L40.8,323.8 L41.8,323.8 L42.8,323.8 L43.8,323.8 L44.8,323.9 L45.8,323.9 L46.8,323.9 L47.8,323.9 L48.8,323.9 L49.8,323.9 L50.8,323.9 L51.8,323.9 L52.8,323.9 L53.8,323.9 L54.8,323.9 L55.8,323.9 L56.8,323.9 L57.8,323.9 L58.8,323.9 L59.8,323.9 L60.8,323.9 L61.8,323.9 L62.8,323.9 L63.8,323.9 L64.8,323.9 L65.8,323.9 L66.8,323.9 L67.8,324 L68.8,324 L69.8,324 L70.8,324 L71.8,324 L72.8,324 L73.8,324 L74.8,324 L75.8,324 L76.8,324 L77.8,324 L78.8,324 L79.8,324 L80.8,324 L81.8,324 L82.8,324 L83.8,324 L84.8,324 L85.8,324 L86.8,324 L87.8,324 L88.8,324 L89.8,324 L90.8,323.9 L91.8,323.9 L92.8,323.9 L93.8,323.9 L94.8,323.8 L95.8,323.8 L96.8,323.7 L97.8,323.6 L98.8,323.5 L99.8,323.4 L100.8,323.3 L101.8,323.2 L102.8,323 L103.8,322.9 L104.8,322.6 L105.8,322.4 L106.8,322.1 L107.8,321.8 L108.8,321.5 L109.8,321.1 L110.8,320.6 L111.8,320.1 L112.8,319.5 L113.8,318.9 L114.8,318.2 L115.8,317.5 L116.8,316.7 L117.8,315.8 L118.8,314.8 L119.8,313.8 L120.8,312.7 L121.8,311.5 L122.8,310.2 L123.8,308.8 L124.8,307.4 L125.8,305.9 L126.8,304.4 L127.8,302.8 L128.8,301.1 L129.8,299.4 L130.8,297.6 L131.8,295.9 L132.8,294.1 L133.8,292.3 L134.8,290.6 L135.8,288.8 L136.8,287.1 L137.8,285.5 L138.8,283.9 L139.8,282.4 L140.8,281 L141.8,279.7 L142.8,278.6 L143.8,277.5 L144.8,276.6 L145.8,275.9 L146.8,275.3 L147.8,274.9 L148.8,274.6 L149.8,274.6 L150.8,274.7 L151.8,275.1 L152.8,275.7 L153.8,276.6 L154.8,277.7 L155.8,279 L156.8,280.5 L157.8,282.2 L158.8,284 L159.8,285.9 L160.8,288 L161.8,290.1 L162.8,292.2 L163.8,294.4 L164.8,296.6 L165.8,298.7 L166.8,300.8 L167.8,302.8 L168.8,304.8 L169.8,306.7 L170.8,308.5 L171.8,310.1 L172.8,311.7 L173.8,313.1 L174.8,314.5 L175.8,315.7 L176.8,316.8 L177.8,317.8 L178.8,318.7 L179.8,319.5 L180.8,320.3 L181.8,320.9 L182.8,321.4 L183.8,321.9 L184.8,322.3 L185.8,322.7 L186.8,323 L187.8,323.3 L188.8,323.5 L189.8,323.7 L190.8,323.8 L191.8,324 L192.8,324.1 L193.8,324.2 L194.8,324.2 L195.8,324.3 L196.8,324.3 L197.8,324.4 L198.8,324.4 L199.8,324.4 L200.8,324.5 L201.8,324.5 L202.8,324.5 L203.8,324.5 L204.8,324.5 L205.8,324.5 L206.8,324.5 L207.8,324.5 L208.8,324.6 L209.8,324.6 L210.8,324.6 L211.8,324.6 L212.8,324.6 L213.8,324.6 L214.8,324.6 L215.8,324.6 L216.8,324.6 L217.8,324.6 L218.8,324.6 L219.8,324.6 L220.8,324.6 L221.8,324.6 L222.8,324.6 L223.8,324.6 L224.8,324.6 L225.8,324.6 L226.8,324.6 L227.8,324.6 L228.8,324.6 L229.8,324.7 L230.8,324.7 L231.8,324.7 L232.8,324.7 L233.8,324.7 L234.8,324.7 L235.8,324.7 L236.8,324.7 L237.8,324.7 L238.8,324.7 L239.8,324.7 L240.8,324.7 L241.8,324.7 L242.8,324.7 L243.8,324.7 L244.8,324.7 L245.8,324.7 L246.8,324.7 L247.8,324.7 L248.8,324.7 L249.8,324.7 L250.8,324.7 L251.8,324.7 L252.8,324.8 L253.8,324.8 L254.8,324.8 L255.8,324.8 L256.8,324.8 L257.8,324.8 L258.8,324.8 L259.8,324.8 L260.8,324.8 L261.8,324.8 L262.8,324.8" stroke="#b64cb8" stroke-width="1.6" fill="none"/>
<path d="M33.8,323.7 L34.8,323.7 L35.8,323.7 L36.8,323.7 L37.8,323.6 L38.8,323.6 L39.8,323.6 L40.8,323.6 L41.8,323.6 L42.8,323.6 L43.8,323.6 L44.8,323.5 L45.8,323.5 L46.8,323.5 L47.8,323.5 L48.8,323.5 L49.8,323.4 L50.8,323.4 L51.8,323.4 L52.8,323.4 L53.8,323.3 L54.8,323.3 L55.8,323.3 L56.8,323.2 L57.8,323.2 L58.8,323.1 L59.8,323.1 L60.8,323 L61.8,323 L62.8,322.9 L63.8,322.9 L64.8,322.8 L65.8,322.7 L66.8,322.7 L67.8,322.6 L68.8,322.5 L69.8,322.4 L70.8,322.3 L71.8,322.2 L72.8,322.1 L73.8,322 L74.8,321.9 L75.8,321.8 L76.8,321.6 L77.8,321.5 L78.8,321.3 L79.8,321.2 L80.8,321 L81.8,320.8 L82.8,320.6 L83.8,320.4 L84.8,320.1 L85.8,319.9 L86.8,319.6 L87.8,319.3 L88.8,319.1 L89.8,318.8 L90.8,318.4 L91.8,318.1 L92.8,317.7 L93.8,317.4 L94.8,317 L95.8,316.5 L96.8,316.1 L97.8,315.7 L98.8,315.2 L99.8,314.7 L100.8,314.2 L101.8,313.6 L102.8,313.1 L103.8,312.5 L104.8,311.9 L105.8,311.2 L106.8,310.6 L107.8,309.9 L108.8,309.1 L109.8,308.4 L110.8,307.6 L111.8,306.7 L112.8,305.9 L113.8,305 L114.8,304 L115.8,303 L116.8,302 L117.8,301 L118.8,299.8 L119.8,298.7 L120.8,297.5 L121.8,296.3 L122.8,295 L123.8,293.7 L124.8,292.4 L125.8,291 L126.8,289.7 L127.8,288.3 L128.8,286.8 L129.8,285.4 L130.8,284 L131.8,282.6 L132.8,281.2 L133.8,279.8 L134.8,278.5 L135.8,277.2 L136.8,276 L137.8,274.8 L138.8,273.7 L139.8,272.7 L140.8,271.8 L141.8,271 L142.8,270.3 L143.8,269.7 L144.8,269.3 L145.8,269 L146.8,268.9 L147.8,268.9 L148.8,269 L149.8,269.3 L150.8,269.7 L151.8,270.4 L152.8,271.3 L153.8,272.3 L154.8,273.6 L155.8,275 L156.8,276.6 L157.8,278.4 L158.8,280.2 L159.8,282.2 L160.8,284.2 L161.8,286.4 L162.8,288.5 L163.8,290.7 L164.8,292.9 L165.8,295.1 L166.8,297.2 L167.8,299.3 L168.8,301.4 L169.8,303.3 L170.8,305.2 L171.8,307 L172.8,308.7 L173.8,310.3 L174.8,311.8 L175.8,313.2 L176.8,314.5 L177.8,315.6 L178.8,316.7 L179.8,317.7 L180.8,318.5 L181.8,319.3 L182.8,320 L183.8,320.7 L184.8,321.2 L185.8,321.7 L186.8,322.1 L187.8,322.5 L188.8,322.8 L189.8,323.1 L190.8,323.3 L191.8,323.5 L192.8,323.7 L193.8,323.8 L194.8,324 L195.8,324.1 L196.8,324.2 L197.8,324.2 L198.8,324.3 L199.8,324.3 L200.8,324.4 L201.8,324.4 L202.8,324.4 L203.8,324.5 L204.8,324.5 L205.8,324.5 L206.8,324.5 L207.8,324.5 L208.8,324.5 L209.8,324.5 L210.8,324.6 L211.8,324.6 L212.8,324.6 L213.8,324.6 L214.8,324.6 L215.8,324.6 L216.8,324.6 L217.8,324.6 L218.8,324.6 L219.8,324.6 L220.8,324.6 L221.8,324.6 L222.8,324.6 L223.8,324.6 L224.8,324.6 L225.8,324.6 L226.8,324.6 L227.8,324.6 L228.8,324.6 L229.8,324.7 L230.8,324.7 L231.8,324.7 L232.8,324.7 L233.8,324.7 L234.8,324.7 L235.8,324.7 L236.8,324.7 L237.8,324.7 L238.8,324.7 L239.8,324.7 L240.8,324.7 L241.8,324.7 L242.8,324.7 L243.8,324.7 L244.8,324.7 L245.8,324.7 L246.8,324.7 L247.8,324.7 L248.8,324.7 L249.8,324.7 L250.8,324.7 L251.8,324.7 L252.8,324.8 L253.8,324.8 L254.8,324.8 L255.8,324.8 L256.8,324.8 L257.8,324.8 L258.8,324.8 L259.8,324.8 L260.8,324.8 L261.8,324.8 L262.8,324.8" stroke="#ff8a0a" stroke-width="2" fill="none"/>
<path d="M33.8,400 L34.8,400 L35.8,400 L36.8,400 L37.8,400 L38.8,400 L39.8,400 L40.8,400 L41.8,400 L42.8,400 L43.8,400 L44.8,400 L45.8,400 L46.8,400 L47.8,400 L48.8,400 L49.8,400 L50.8,399.9 L51.8,399.9 L52.8,399.9 L53.8,399.9 L54.8,399.9 L55.8,399.8 L56.8,399.8 L57.8,399.7 L58.8,399.7 L59.8,399.7 L60.8,399.6 L61.8,399.6 L62.8,399.5 L63.8,399.4 L64.8,399.4 L65.8,399.3 L66.8,399.2 L67.8,399.2 L68.8,399.1 L69.8,399 L70.8,398.9 L71.8,398.8 L72.8,398.7 L73.8,398.6 L74.8,398.5 L75.8,398.4 L76.8,398.3 L77.8,398.2 L78.8,398.2 L79.8,398.1 L80.8,398 L81.8,397.9 L82.8,397.8 L83.8,397.7 L84.8,397.6 L85.8,397.5 L86.8,397.4 L87.8,397.4 L88.8,397.3 L89.8,397.3 L90.8,397.2 L91.8,397.2 L92.8,397.1 L93.8,397.1 L94.8,397.1 L95.8,397.1 L96.8,397.1 L97.8,397.1 L98.8,397.1 L99.8,397.1 L100.8,397.2 L101.8,397.2 L102.8,397.3 L103.8,397.3 L104.8,397.4 L105.8,397.5 L106.8,397.6 L107.8,397.7 L108.8,397.8 L109.8,397.9 L110.8,398 L111.8,398.1 L112.8,398.2 L113.8,398.3 L114.8,398.4 L115.8,398.5 L116.8,398.6 L117.8,398.8 L118.8,398.9 L119.8,399 L120.8,399.1 L121.8,399.2 L122.8,399.3 L123.8,399.4 L124.8,399.5 L125.8,399.6 L126.8,399.7 L127.8,399.8 L128.8,399.9 L129.8,400 L130.8,400.1 L131.8,400.2 L132.8,400.2 L133.8,400.3 L134.8,400.4 L135.8,400.4 L136.8,400.5 L137.8,400.6 L138.8,400.6 L139.8,400.7 L140.8,400.7 L141.8,400.8 L142.8,400.8 L143.8,400.8 L144.8,400.9 L145.8,400.9 L146.8,400.9 L147.8,401 L148.8,401 L149.8,401 L150.8,401 L151.8,401.1 L152.8,401.1 L153.8,401.1 L154.8,401.1 L155.8,401.1 L156.8,401.1 L157.8,401.2 L158.8,401.2 L159.8,401.2 L160.8,401.2 L161.8,401.2 L162.8,401.2 L163.8,401.2 L164.8,401.2 L165.8,401.3 L166.8,401.3 L167.8,401.3 L168.8,401.3 L169.8,401.3 L170.8,401.3 L171.8,401.3 L172.8,401.3 L173.8,401.3 L174.8,401.3 L175.8,401.4 L176.8,401.4 L177.8,401.4 L178.8,401.4 L179.8,401.4 L180.8,401.4 L181.8,401.4 L182.8,401.4 L183.8,401.4 L184.8,401.4 L185.8,401.5 L186.8,401.5 L187.8,401.5 L188.8,401.5 L189.8,401.5 L190.8,401.5 L191.8,401.5 L192.8,401.5 L193.8,401.5 L194.8,401.5 L195.8,401.6 L196.8,401.6 L197.8,401.6 L198.8,401.6 L199.8,401.6 L200.8,401.6 L201.8,401.6 L202.8,401.6 L203.8,401.6 L204.8,401.6 L205.8,401.6 L206.8,401.7 L207.8,401.7 L208.8,401.7 L209.8,401.7 L210.8,401.7 L211.8,401.7 L212.8,401.7 L213.8,401.7 L214.8,401.7 L215.8,401.7 L216.8,401.8 L217.8,401.8 L218.8,401.8 L219.8,401.8 L220.8,401.8 L221.8,401.8 L222.8,401.8 L223.8,401.8 L224.8,401.8 L225.8,401.8 L226.8,401.8 L227.8,401.9 L228.8,401.9 L229.8,401.9 L230.8,401.9 L231.8,401.9 L232.8,401.9 L233.8,401.9 L234.8,401.9 L235.8,401.9 L236.8,401.9 L237.8,402 L238.8,402 L239.8,402 L240.8,402 L241.8,402 L242.8,402 L243.8,402 L244.8,402 L245.8,402 L246.8,402 L247.8,402 L248.8,402.1 L249.8,402.1 L250.8,402.1 L251.8,402.1 L252.8,402.1 L253.8,402.1 L254.8,402.1 L255.8,402.1 L256.8,402.1 L257.8,402.1 L258.8,402.2 L259.8,402.2 L260.8,402.2 L261.8,402.2 L262.8,402.2" stroke="#1f86d0" stroke-width="1.6" fill="none"/>
<path d="M33.8,400 L34.8,400 L35.8,400 L36.8,400 L37.8,400 L38.8,400.1 L39.8,400.1 L40.8,400.1 L41.8,400.1 L42.8,400.1 L43.8,400.1 L44.8,400.1 L45.8,400.1 L46.8,400.1 L47.8,400.1 L48.8,400.1 L49.8,400.1 L50.8,400.2 L51.8,400.2 L52.8,400.2 L53.8,400.2 L54.8,400.2 L55.8,400.2 L56.8,400.2 L57.8,400.2 L58.8,400.2 L59.8,400.2 L60.8,400.2 L61.8,400.2 L62.8,400.2 L63.8,400.2 L64.8,400.2 L65.8,400.2 L66.8,400.2 L67.8,400.1 L68.8,400.1 L69.8,400.1 L70.8,400.1 L71.8,400.1 L72.8,400 L73.8,400 L74.8,399.9 L75.8,399.9 L76.8,399.8 L77.8,399.8 L78.8,399.7 L79.8,399.7 L80.8,399.6 L81.8,399.5 L82.8,399.4 L83.8,399.3 L84.8,399.2 L85.8,399.1 L86.8,398.9 L87.8,398.8 L88.8,398.7 L89.8,398.5 L90.8,398.3 L91.8,398.2 L92.8,398 L93.8,397.8 L94.8,397.6 L95.8,397.4 L96.8,397.2 L97.8,397 L98.8,396.7 L99.8,396.5 L100.8,396.3 L101.8,396 L102.8,395.8 L103.8,395.5 L104.8,395.3 L105.8,395 L106.8,394.8 L107.8,394.6 L108.8,394.3 L109.8,394.1 L110.8,393.9 L111.8,393.6 L112.8,393.4 L113.8,393.2 L114.8,393.1 L115.8,392.9 L116.8,392.7 L117.8,392.6 L118.8,392.5 L119.8,392.4 L120.8,392.3 L121.8,392.2 L122.8,392.1 L123.8,392.1 L124.8,392.1 L125.8,392.1 L126.8,392.1 L127.8,392.2 L128.8,392.3 L129.8,392.4 L130.8,392.5 L131.8,392.6 L132.8,392.7 L133.8,392.9 L134.8,393.1 L135.8,393.3 L136.8,393.5 L137.8,393.7 L138.8,393.9 L139.8,394.2 L140.8,394.4 L141.8,394.7 L142.8,394.9 L143.8,395.2 L144.8,395.4 L145.8,395.7 L146.8,396 L147.8,396.2 L148.8,396.5 L149.8,396.8 L150.8,397 L151.8,397.3 L152.8,397.5 L153.8,397.7 L154.8,398 L155.8,398.2 L156.8,398.4 L157.8,398.6 L158.8,398.8 L159.8,399 L160.8,399.2 L161.8,399.4 L162.8,399.5 L163.8,399.7 L164.8,399.8 L165.8,400 L166.8,400.1 L167.8,400.2 L168.8,400.3 L169.8,400.4 L170.8,400.5 L171.8,400.6 L172.8,400.7 L173.8,400.8 L174.8,400.8 L175.8,400.9 L176.8,401 L177.8,401 L178.8,401.1 L179.8,401.1 L180.8,401.2 L181.8,401.2 L182.8,401.2 L183.8,401.3 L184.8,401.3 L185.8,401.3 L186.8,401.4 L187.8,401.4 L188.8,401.4 L189.8,401.4 L190.8,401.4 L191.8,401.5 L192.8,401.5 L193.8,401.5 L194.8,401.5 L195.8,401.5 L196.8,401.5 L197.8,401.6 L198.8,401.6 L199.8,401.6 L200.8,401.6 L201.8,401.6 L202.8,401.6 L203.8,401.6 L204.8,401.6 L205.8,401.6 L206.8,401.7 L207.8,401.7 L208.8,401.7 L209.8,401.7 L210.8,401.7 L211.8,401.7 L212.8,401.7 L213.8,401.7 L214.8,401.7 L215.8,401.7 L216.8,401.7 L217.8,401.8 L218.8,401.8 L219.8,401.8 L220.8,401.8 L221.8,401.8 L222.8,401.8 L223.8,401.8 L224.8,401.8 L225.8,401.8 L226.8,401.8 L227.8,401.9 L228.8,401.9 L229.8,401.9 L230.8,401.9 L231.8,401.9 L232.8,401.9 L233.8,401.9 L234.8,401.9 L235.8,401.9 L236.8,401.9 L237.8,402 L238.8,402 L239.8,402 L240.8,402 L241.8,402 L242.8,402 L243.8,402 L244.8,402 L245.8,402 L246.8,402 L247.8,402 L248.8,402.1 L249.8,402.1 L250.8,402.1 L251.8,402.1 L252.8,402.1 L253.8,402.1 L254.8,402.1 L255.8,402.1 L256.8,402.1 L257.8,402.1 L258.8,402.2 L259.8,402.2 L260.8,402.2 L261.8,402.2 L262.8,402.2" stroke="#1eb440" stroke-width="1.6" fill="none"/>
<path d="M33.8,400 L34.8,400 L35.8,400 L36.8,400 L37.8,400 L38.8,400.1 L39.8,400.1 L40.8,400.1 L41.8,400.1 L42.8,400.1 L43.8,400.1 L44.8,400.1 L45.8,400.1 L46.8,400.1 L47.8,400.1 L48.8,400.2 L49.8,400.2 L50.8,400.2 L51.8,400.2 L52.8,400.2 L53.8,400.2 L54.8,400.2 L55.8,400.2 L56.8,400.2 L57.8,400.2 L58.8,400.2 L59.8,400.3 L60.8,400.3 L61.8,400.3 L62.8,400.3 L63.8,400.3 L64.8,400.3 L65.8,400.3 L66.8,400.3 L67.8,400.3 L68.8,400.3 L69.8,400.4 L70.8,400.4 L71.8,400.4 L72.8,400.4 L73.8,400.4 L74.8,400.4 L75.8,400.4 L76.8,400.4 L77.8,400.4 L78.8,400.4 L79.8,400.4 L80.8,400.5 L81.8,400.5 L82.8,400.5 L83.8,400.5 L84.8,400.5 L85.8,400.5 L86.8,400.5 L87.8,400.5 L88.8,400.5 L89.8,400.5 L90.8,400.5 L91.8,400.5 L92.8,400.5 L93.8,400.5 L94.8,400.5 L95.8,400.5 L96.8,400.5 L97.8,400.5 L98.8,400.5 L99.8,400.4 L100.8,400.4 L101.8,400.3 L102.8,400.3 L103.8,400.2 L104.8,400.1 L105.8,400 L106.8,399.9 L107.8,399.7 L108.8,399.6 L109.8,399.3 L110.8,399.1 L111.8,398.8 L112.8,398.5 L113.8,398.1 L114.8,397.7 L115.8,397.2 L116.8,396.7 L117.8,396.1 L118.8,395.5 L119.8,394.7 L120.8,393.9 L121.8,393 L122.8,392.1 L123.8,391 L124.8,389.9 L125.8,388.7 L126.8,387.4 L127.8,386 L128.8,384.6 L129.8,383.1 L130.8,381.6 L131.8,380 L132.8,378.3 L133.8,376.6 L134.8,374.9 L135.8,373.3 L136.8,371.6 L137.8,369.9 L138.8,368.3 L139.8,366.7 L140.8,365.2 L141.8,363.9 L142.8,362.6 L143.8,361.4 L144.8,360.3 L145.8,359.5 L146.8,358.7 L147.8,358.1 L148.8,357.7 L149.8,357.5 L150.8,357.5 L151.8,357.6 L152.8,357.9 L153.8,358.4 L154.8,359 L155.8,359.8 L156.8,360.8 L157.8,361.9 L158.8,363.1 L159.8,364.5 L160.8,365.9 L161.8,367.4 L162.8,369 L163.8,370.6 L164.8,372.3 L165.8,374 L166.8,375.7 L167.8,377.4 L168.8,379 L169.8,380.7 L170.8,382.3 L171.8,383.8 L172.8,385.3 L173.8,386.7 L174.8,388.1 L175.8,389.4 L176.8,390.6 L177.8,391.7 L178.8,392.7 L179.8,393.7 L180.8,394.6 L181.8,395.4 L182.8,396.1 L183.8,396.8 L184.8,397.4 L185.8,397.9 L186.8,398.4 L187.8,398.9 L188.8,399.2 L189.8,399.6 L190.8,399.9 L191.8,400.1 L192.8,400.4 L193.8,400.6 L194.8,400.7 L195.8,400.9 L196.8,401 L197.8,401.1 L198.8,401.2 L199.8,401.3 L200.8,401.3 L201.8,401.4 L202.8,401.4 L203.8,401.5 L204.8,401.5 L205.8,401.6 L206.8,401.6 L207.8,401.6 L208.8,401.6 L209.8,401.6 L210.8,401.7 L211.8,401.7 L212.8,401.7 L213.8,401.7 L214.8,401.7 L215.8,401.7 L216.8,401.7 L217.8,401.8 L218.8,401.8 L219.8,401.8 L220.8,401.8 L221.8,401.8 L222.8,401.8 L223.8,401.8 L224.8,401.8 L225.8,401.8 L226.8,401.8 L227.8,401.9 L228.8,401.9 L229.8,401.9 L230.8,401.9 L231.8,401.9 L232.8,401.9 L233.8,401.9 L234.8,401.9 L235.8,401.9 L236.8,401.9 L237.8,402 L238.8,402 L239.8,402 L240.8,402 L241.8,402 L242.8,402 L243.8,402 L244.8,402 L245.8,402 L246.8,402 L247.8,402 L248.8,402.1 L249.8,402.1 L250.8,402.1 L251.8,402.1 L252.8,402.1 L253.8,402.1 L254.8,402.1 L255.8,402.1 L256.8,402.1 L257.8,402.1 L258.8,402.2 L259.8,402.2 L260.8,402.2 L261.8,402.2 L262.8,402.2" stroke="#b64cb8" stroke-width="1.6" fill="none"/>
<path d="M33.8,400 L34.8,400 L35.8,400 L36.8,400 L37.8,400 L38.8,400 L39.8,400 L40.8,400 L41.8,400 L42.8,400 L43.8,400 L44.8,400 L45.8,400 L46.8,400 L47.8,400 L48.8,400 L49.8,399.9 L50.8,399.9 L51.8,399.9 L52.8,399.9 L53.8,399.9 L54.8,399.8 L55.8,399.8 L56.8,399.7 L57.8,399.7 L58.8,399.7 L59.8,399.6 L60.8,399.5 L61.8,399.5 L62.8,399.4 L63.8,399.3 L64.8,399.3 L65.8,399.2 L66.8,399.1 L67.8,399 L68.8,398.9 L69.8,398.8 L70.8,398.6 L71.8,398.5 L72.8,398.4 L73.8,398.2 L74.8,398.1 L75.8,397.9 L76.8,397.8 L77.8,397.6 L78.8,397.4 L79.8,397.3 L80.8,397.1 L81.8,396.9 L82.8,396.7 L83.8,396.5 L84.8,396.3 L85.8,396.1 L86.8,395.9 L87.8,395.6 L88.8,395.4 L89.8,395.2 L90.8,395 L91.8,394.7 L92.8,394.5 L93.8,394.3 L94.8,394 L95.8,393.8 L96.8,393.5 L97.8,393.3 L98.8,393 L99.8,392.8 L100.8,392.5 L101.8,392.2 L102.8,391.9 L103.8,391.6 L104.8,391.3 L105.8,391 L106.8,390.7 L107.8,390.4 L108.8,390 L109.8,389.7 L110.8,389.3 L111.8,388.8 L112.8,388.4 L113.8,387.9 L114.8,387.4 L115.8,386.8 L116.8,386.3 L117.8,385.6 L118.8,384.9 L119.8,384.2 L120.8,383.4 L121.8,382.6 L122.8,381.7 L123.8,380.8 L124.8,379.8 L125.8,378.7 L126.8,377.6 L127.8,376.5 L128.8,375.3 L129.8,374 L130.8,372.7 L131.8,371.4 L132.8,370 L133.8,368.7 L134.8,367.3 L135.8,365.9 L136.8,364.6 L137.8,363.3 L138.8,362 L139.8,360.7 L140.8,359.5 L141.8,358.4 L142.8,357.4 L143.8,356.5 L144.8,355.7 L145.8,355 L146.8,354.5 L147.8,354.1 L148.8,353.8 L149.8,353.7 L150.8,353.7 L151.8,353.9 L152.8,354.3 L153.8,354.8 L154.8,355.5 L155.8,356.4 L156.8,357.4 L157.8,358.5 L158.8,359.8 L159.8,361.2 L160.8,362.7 L161.8,364.3 L162.8,366 L163.8,367.7 L164.8,369.5 L165.8,371.3 L166.8,373.1 L167.8,374.9 L168.8,376.7 L169.8,378.5 L170.8,380.2 L171.8,381.9 L172.8,383.5 L173.8,385.1 L174.8,386.6 L175.8,388 L176.8,389.3 L177.8,390.5 L178.8,391.7 L179.8,392.7 L180.8,393.7 L181.8,394.6 L182.8,395.4 L183.8,396.2 L184.8,396.9 L185.8,397.5 L186.8,398 L187.8,398.5 L188.8,398.9 L189.8,399.3 L190.8,399.6 L191.8,399.9 L192.8,400.2 L193.8,400.4 L194.8,400.6 L195.8,400.8 L196.8,400.9 L197.8,401 L198.8,401.1 L199.8,401.2 L200.8,401.3 L201.8,401.4 L202.8,401.4 L203.8,401.5 L204.8,401.5 L205.8,401.5 L206.8,401.6 L207.8,401.6 L208.8,401.6 L209.8,401.6 L210.8,401.7 L211.8,401.7 L212.8,401.7 L213.8,401.7 L214.8,401.7 L215.8,401.7 L216.8,401.7 L217.8,401.8 L218.8,401.8 L219.8,401.8 L220.8,401.8 L221.8,401.8 L222.8,401.8 L223.8,401.8 L224.8,401.8 L225.8,401.8 L226.8,401.8 L227.8,401.9 L228.8,401.9 L229.8,401.9 L230.8,401.9 L231.8,401.9 L232.8,401.9 L233.8,401.9 L234.8,401.9 L235.8,401.9 L236.8,401.9 L237.8,402 L238.8,402 L239.8,402 L240.8,402 L241.8,402 L242.8,402 L243.8,402 L244.8,402 L245.8,402 L246.8,402 L247.8,402 L248.8,402.1 L249.8,402.1 L250.8,402.1 L251.8,402.1 L252.8,402.1 L253.8,402.1 L254.8,402.1 L255.8,402.1 L256.8,402.1 L257.8,402.1 L258.8,402.2 L259.8,402.2 L260.8,402.2 L261.8,402.2 L262.8,402.2" stroke="#ff8a0a" stroke-width="2" fill="none"/>
<text x="64.6" y="312.6" font-size="12.8" fill="#1f86d0" stroke="#1f86d0" stroke-width="0.3">O<tspan font-size="9" dy="3.7">surf</tspan></text>
<text x="91.2" y="301.6" font-size="12.8" fill="#1eb440" stroke="#1eb440" stroke-width="0.3">O<tspan font-size="9" dy="3.3">ads</tspan></text>
<text x="109.2" y="280.6" font-size="12.8" fill="#b64cb8" stroke="#b64cb8" stroke-width="0.3">O<tspan font-size="9" dy="3.3">latt</tspan></text>
<text x="161.7" y="281.7" font-size="9.2" fill="#b64cb8" stroke="#b64cb8" stroke-width="0.3">530.78 eV</text>
<text x="168.4" y="308.5" font-size="9.2" text-anchor="end" fill="#1eb440" stroke="#1eb440" stroke-width="0.3">530.77 eV</text>
<text x="74.8" y="334.2" font-size="9.2" fill="#1f86d0" stroke="#1f86d0" stroke-width="0.3">532.28 eV</text>
<text x="211.6" y="317.5" font-size="12.5" fill="#111" stroke="#111" stroke-width="0.3">2D WO<tspan font-size="8.6" dy="3">3-x</tspan></text>
<text x="218" y="395.8" font-size="12.5" fill="#111" stroke="#111" stroke-width="0.3">N-WO<tspan font-size="8.6" dy="3">3-x</tspan></text>
<rect x="300.1" y="240.1" width="231.60000000000002" height="186.50000000000003" fill="none" stroke="#080808" stroke-width="1.8"/>
<path d="M300.1,426.6 v3.8 M338.7,426.6 v3.8 M377.3,426.6 v3.8 M415.9,426.6 v3.8 M454.5,426.6 v3.8 M493.1,426.6 v3.8 M531.7,426.6 v3.8" stroke="#080808" stroke-width="1.5" fill="none"/>
<text x="300.1" y="442" font-size="12" text-anchor="middle" fill="#111" stroke="#111" stroke-width="0.3">3510</text>
<text x="377.3" y="442" font-size="12" text-anchor="middle" fill="#111" stroke="#111" stroke-width="0.3">3515</text>
<text x="454.5" y="442" font-size="12" text-anchor="middle" fill="#111" stroke="#111" stroke-width="0.3">3520</text>
<text x="531.7" y="442" font-size="12" text-anchor="middle" fill="#111" stroke="#111" stroke-width="0.3">3525</text>
<text x="415.9" y="460" font-size="15.7" text-anchor="middle" fill="#111" stroke="#111" stroke-width="0.3">Magnetic field (G)</text>
<text transform="translate(292,334.6) rotate(-90)" font-size="15.6" text-anchor="middle" fill="#111" stroke="#111" stroke-width="0.3">Intensity (a.u.)</text>
<text x="276.5" y="258" font-size="30" fill="#000" stroke="#000" stroke-width="0.3">d</text>
<path d="M447.4,249.9 H475" stroke="#ff8a0a" stroke-width="1.8"/>
<path d="M447.4,268.4 H475" stroke="#b64cb8" stroke-width="1.8"/>
<text x="478.6" y="254.5" font-size="12.5" fill="#111" stroke="#111" stroke-width="0.3">N-WO<tspan font-size="8.6" dy="3">3-x</tspan></text>
<text x="478.6" y="272.5" font-size="12.5" fill="#111" stroke="#111" stroke-width="0.3">2D WO<tspan font-size="8.6" dy="3">3-x</tspan></text>
<path d="M300.8,333.2 C303.7,333.2 313.8,333.3 318.2,333.2 C322.6,333.1 324,332.8 327.3,332.6 C330.6,332.4 334.6,332.4 338.2,332.2 C341.8,332 345.8,331.9 349.1,331.4 C352.4,330.9 354.2,330.2 357.8,329.3 C361.4,328.4 366.2,327.3 370.5,326.1 C374.8,324.9 380.1,323.3 383.3,322.3 C386.6,321.3 388.1,320.8 390,320.3 C391.9,319.9 393.2,319.6 394.7,319.6 C396.2,319.6 397.5,319.6 399,320.3 C400.5,321 401.9,322.4 403.5,324 C405.1,325.6 407.2,327.7 408.6,329.6 C410.1,331.5 410.6,333.1 412.2,335.3 C413.8,337.5 416.2,340.9 418,343 C419.8,345.1 421.3,346.9 423.1,347.8 C424.9,348.7 427,348.5 429,348.3 C431,348.1 433.2,347.4 435,346.8 C436.8,346.2 438.1,345.5 440,344.8 C441.9,344.1 444.3,343.5 446.4,342.9 C448.5,342.3 450.7,341.5 452.8,341 C454.9,340.5 457.1,340.1 459.2,339.7 C461.3,339.3 462.3,339.2 465.5,338.8 C468.7,338.4 474,337.9 478.3,337.5 C482.6,337.1 487.7,336.9 491.1,336.7 C494.5,336.5 492.2,336.5 498.7,336.5 C505.2,336.5 525,336.5 530.2,336.5" stroke="#b64cb8" stroke-width="1.8" fill="none"/>
<path d="M300.8,334.5 C302.9,334.5 310,334.6 313.6,334.5 C317.2,334.4 320,334.4 322.7,334.1 C325.4,333.8 327.7,333.3 330,332.7 C332.3,332.1 334.3,331.3 336.4,330.5 C338.5,329.7 340.6,328.9 342.7,327.7 C344.8,326.5 346.6,325.3 349.1,323.2 C351.6,321.1 355.3,317.4 357.8,315.3 C360.3,313.2 362,312.5 364.1,310.8 C366.2,309.1 368.4,307.2 370.5,305.1 C372.6,303 374.8,301 376.9,298.1 C379,295.2 381.2,291.4 383.3,287.9 C385.4,284.4 387.9,280 389.6,277 C391.3,274 392.1,271.7 393.5,270 C394.9,268.3 396.5,266.9 397.8,266.7 C399.1,266.4 400.2,267.4 401.2,268.5 C402.2,269.6 403,271.8 403.7,273.6 C404.4,275.5 404.9,277.3 405.4,279.6 C405.9,281.9 406.3,284.5 406.7,287.2 C407.1,289.9 407.5,291.9 408,295.7 C408.5,299.5 409.1,305.9 409.5,310 C409.9,314.1 410.3,316.7 410.7,320 C411.1,323.3 411.6,326.7 412,330 C412.4,333.3 412.7,335 413.3,340 C413.9,345 414.9,355.1 415.5,360 C416.1,364.9 416.5,366.4 417,369.6 C417.5,372.8 417.8,375.6 418.4,379.1 C418.9,382.6 419.6,387.4 420.3,390.6 C421,393.8 421.8,396.6 422.7,398.3 C423.6,400 424.6,400.6 425.6,400.7 C426.6,400.8 427.5,400.4 428.9,399.2 C430.2,398 432.1,395.7 433.7,393.5 C435.3,391.3 437.1,388.2 438.5,385.8 C439.9,383.4 440.7,381.7 442,379 C443.3,376.3 444.6,372.7 446.4,369.7 C448.2,366.7 450.7,363.4 452.8,360.8 C454.9,358.2 457.1,356.2 459.2,354.4 C461.3,352.6 463.4,351.3 465.5,349.9 C467.6,348.5 469.8,347.3 471.9,346.1 C474,344.9 476.2,343.9 478.3,342.9 C480.4,341.9 482.6,341.1 484.7,340.3 C486.8,339.6 488.8,338.9 491.1,338.4 C493.4,337.9 495.5,337.4 498.7,337.1 C501.9,336.8 504.9,336.8 510.2,336.7 C515.5,336.6 526.9,336.5 530.2,336.5" stroke="#ff8a0a" stroke-width="1.8" fill="none"/>
</svg>
</body></html>
